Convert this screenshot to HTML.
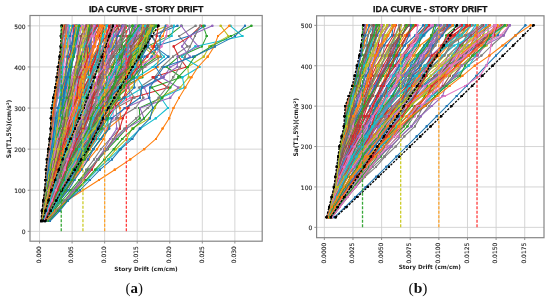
<!DOCTYPE html>
<html><head><meta charset="utf-8"><style>
html,body{margin:0;padding:0;background:#fff;}
svg{display:block;filter:blur(0.42px);}
.g{stroke:#cecece;stroke-width:0.85;}
.fr{fill:none;stroke:#858585;stroke-width:1.2;}
.tk{stroke:#858585;stroke-width:0.9;}
.tl{font-family:'DejaVu Sans',sans-serif;font-size:6.0px;fill:#222;stroke:#222;stroke-width:0.12px;}
.al{font-family:'DejaVu Sans',sans-serif;font-size:5.8px;font-weight:bold;fill:#222;}
.ti{font-family:'Liberation Sans', Arial, sans-serif;font-size:8.9px;font-weight:bold;fill:#111;stroke:#111;stroke-width:0.25px;}
.cp{font-family:'Liberation Serif', 'Times New Roman', serif;font-size:14px;fill:#111;}
.c0{stroke:#1f77b4;marker-start:url(#m0);marker-mid:url(#m0);marker-end:url(#m0);}
.c1{stroke:#ff7f0e;marker-start:url(#m1);marker-mid:url(#m1);marker-end:url(#m1);}
.c2{stroke:#2ca02c;marker-start:url(#m2);marker-mid:url(#m2);marker-end:url(#m2);}
.c3{stroke:#d62728;marker-start:url(#m3);marker-mid:url(#m3);marker-end:url(#m3);}
.c4{stroke:#9467bd;marker-start:url(#m4);marker-mid:url(#m4);marker-end:url(#m4);}
.c5{stroke:#8c564b;marker-start:url(#m5);marker-mid:url(#m5);marker-end:url(#m5);}
.c6{stroke:#e377c2;marker-start:url(#m6);marker-mid:url(#m6);marker-end:url(#m6);}
.c7{stroke:#7f7f7f;marker-start:url(#m7);marker-mid:url(#m7);marker-end:url(#m7);}
.c8{stroke:#bcbd22;marker-start:url(#m8);marker-mid:url(#m8);marker-end:url(#m8);}
.c9{stroke:#17becf;marker-start:url(#m9);marker-mid:url(#m9);marker-end:url(#m9);}
polyline{fill:none;stroke-width:1.05;stroke-linejoin:round;}
.bk{stroke:#000;stroke-width:1.3;stroke-dasharray:2.4,1.2;marker-start:url(#mk);marker-mid:url(#mk);marker-end:url(#mk);}
</style></head><body>
<svg width="550" height="302" viewBox="0 0 550 302">
<defs><marker id="m0" markerUnits="userSpaceOnUse" viewBox="-1 -1 2 2" markerWidth="2.7" markerHeight="2.7" refX="0" refY="0"><circle r="1" fill="#1f77b4"/></marker><marker id="m1" markerUnits="userSpaceOnUse" viewBox="-1 -1 2 2" markerWidth="2.7" markerHeight="2.7" refX="0" refY="0"><circle r="1" fill="#ff7f0e"/></marker><marker id="m2" markerUnits="userSpaceOnUse" viewBox="-1 -1 2 2" markerWidth="2.7" markerHeight="2.7" refX="0" refY="0"><circle r="1" fill="#2ca02c"/></marker><marker id="m3" markerUnits="userSpaceOnUse" viewBox="-1 -1 2 2" markerWidth="2.7" markerHeight="2.7" refX="0" refY="0"><circle r="1" fill="#d62728"/></marker><marker id="m4" markerUnits="userSpaceOnUse" viewBox="-1 -1 2 2" markerWidth="2.7" markerHeight="2.7" refX="0" refY="0"><circle r="1" fill="#9467bd"/></marker><marker id="m5" markerUnits="userSpaceOnUse" viewBox="-1 -1 2 2" markerWidth="2.7" markerHeight="2.7" refX="0" refY="0"><circle r="1" fill="#8c564b"/></marker><marker id="m6" markerUnits="userSpaceOnUse" viewBox="-1 -1 2 2" markerWidth="2.7" markerHeight="2.7" refX="0" refY="0"><circle r="1" fill="#e377c2"/></marker><marker id="m7" markerUnits="userSpaceOnUse" viewBox="-1 -1 2 2" markerWidth="2.7" markerHeight="2.7" refX="0" refY="0"><circle r="1" fill="#7f7f7f"/></marker><marker id="m8" markerUnits="userSpaceOnUse" viewBox="-1 -1 2 2" markerWidth="2.7" markerHeight="2.7" refX="0" refY="0"><circle r="1" fill="#bcbd22"/></marker><marker id="m9" markerUnits="userSpaceOnUse" viewBox="-1 -1 2 2" markerWidth="2.7" markerHeight="2.7" refX="0" refY="0"><circle r="1" fill="#17becf"/></marker><marker id="mk" markerUnits="userSpaceOnUse" viewBox="-1 -1 2 2" markerWidth="2.9" markerHeight="2.9" refX="0" refY="0"><circle r="1" fill="#000"/></marker></defs>
<rect width="550" height="302" fill="#fff"/>
<line x1="39.55" y1="15.50" x2="39.55" y2="241.20" class="g"/>
<line x1="72.10" y1="15.50" x2="72.10" y2="241.20" class="g"/>
<line x1="104.65" y1="15.50" x2="104.65" y2="241.20" class="g"/>
<line x1="137.20" y1="15.50" x2="137.20" y2="241.20" class="g"/>
<line x1="169.75" y1="15.50" x2="169.75" y2="241.20" class="g"/>
<line x1="202.30" y1="15.50" x2="202.30" y2="241.20" class="g"/>
<line x1="234.85" y1="15.50" x2="234.85" y2="241.20" class="g"/>
<line x1="30.00" y1="231.35" x2="262.20" y2="231.35" class="g"/>
<line x1="30.00" y1="190.25" x2="262.20" y2="190.25" class="g"/>
<line x1="30.00" y1="149.15" x2="262.20" y2="149.15" class="g"/>
<line x1="30.00" y1="108.05" x2="262.20" y2="108.05" class="g"/>
<line x1="30.00" y1="66.95" x2="262.20" y2="66.95" class="g"/>
<line x1="30.00" y1="25.85" x2="262.20" y2="25.85" class="g"/>
<polyline points="44.2,221.1 48.8,210.8 54.5,200.5 60.6,190.2 65.1,180.0 70.4,169.7 72.5,159.4 78.2,149.2 82.4,138.9 89.6,128.6 96.4,118.3 100.4,108.0 108.3,97.8 114.6,87.5 124.0,77.2 126.9,67.0 125.4,56.7 134.2,46.4 132.9,36.1 145.4,25.8" class="c0"/>
<polyline points="42.8,221.1 45.8,210.8 49.3,200.5 51.8,190.2 55.1,180.0 57.8,169.7 63.0,159.4 66.7,149.2 71.4,138.9 74.8,128.6 75.7,118.3 78.2,108.0 79.6,97.8 82.3,87.5 85.7,77.2 91.5,67.0 98.1,56.7 99.5,46.4 106.7,36.1 106.2,25.8" class="c1"/>
<polyline points="44.5,221.1 49.9,210.8 53.5,200.5 59.5,190.2 65.0,180.0 68.4,169.7 76.2,159.4 80.2,149.2 85.8,138.9 87.4,128.6 90.9,118.3 94.6,108.0 102.4,97.8 102.2,87.5 111.0,77.2 118.5,67.0 125.4,56.7 127.4,46.4 133.0,36.1 135.4,25.8" class="c2"/>
<polyline points="41.7,221.1 43.9,210.8 46.7,200.5 49.8,190.2 53.2,180.0 55.7,169.7 59.8,159.4 62.3,149.2 65.0,138.9 68.0,128.6 70.4,118.3 72.9,108.0 75.7,97.8 80.2,87.5 84.2,77.2 83.5,67.0 85.8,56.7 93.4,46.4 94.6,36.1 99.7,25.8" class="c3"/>
<polyline points="45.5,221.1 50.3,210.8 56.1,200.5 62.0,190.2 65.5,180.0 72.3,169.7 78.5,159.4 83.0,149.2 89.5,138.9 92.3,128.6 100.1,118.3 104.8,108.0 115.7,97.8 118.5,87.5 125.9,77.2 136.2,67.0 140.8,56.7 147.2,46.4 147.2,36.1 150.9,25.8" class="c4"/>
<polyline points="41.4,221.1 43.1,210.8 44.7,200.5 46.4,190.2 47.9,180.0 49.3,169.7 51.0,159.4 53.3,149.2 55.3,138.9 56.5,128.6 59.4,118.3 61.7,108.0 64.0,97.8 66.3,87.5 68.7,77.2 69.7,67.0 72.4,56.7 72.6,46.4 74.5,36.1 76.8,25.8" class="c5"/>
<polyline points="42.1,221.1 44.8,210.8 48.1,200.5 51.1,190.2 54.8,180.0 58.1,169.7 62.0,159.4 64.9,149.2 69.5,138.9 73.9,128.6 78.4,118.3 80.9,108.0 86.9,97.8 91.1,87.5 94.2,77.2 99.3,67.0 102.7,56.7 103.5,46.4 106.6,36.1 111.0,25.8" class="c6"/>
<polyline points="45.0,221.1 51.2,210.8 57.5,200.5 64.4,190.2 71.0,180.0 77.8,169.7 84.2,159.4 89.5,149.2 94.9,138.9 98.4,128.6 101.9,118.3 106.9,108.0 115.0,97.8 118.4,87.5 136.8,77.2 142.3,67.0 151.7,56.7 158.1,46.4 151.7,36.1 177.4,25.8" class="c0"/>
<polyline points="41.5,221.1 43.4,210.8 45.1,200.5 47.4,190.2 48.9,180.0 51.3,169.7 53.1,159.4 55.6,149.2 58.6,138.9 60.8,128.6 62.5,118.3 66.0,108.0 68.2,97.8 70.1,87.5 71.8,77.2 75.4,67.0 77.4,56.7 80.7,46.4 82.5,36.1 82.4,25.8" class="c8"/>
<polyline points="43.9,221.1 48.1,210.8 52.3,200.5 55.7,190.2 59.9,180.0 63.8,169.7 68.1,159.4 74.0,149.2 75.7,138.9 80.7,128.6 83.3,118.3 84.6,108.0 85.9,97.8 92.5,87.5 94.1,77.2 98.3,67.0 102.6,56.7 111.4,46.4 112.8,36.1 113.1,25.8" class="c9"/>
<polyline points="41.9,221.1 44.0,210.8 46.6,200.5 48.7,190.2 51.8,180.0 54.4,169.7 56.7,159.4 59.9,149.2 62.8,138.9 67.7,128.6 68.6,118.3 71.6,108.0 73.1,97.8 75.6,87.5 77.9,77.2 81.6,67.0 82.9,56.7 89.7,46.4 91.7,36.1 93.4,25.8" class="c0"/>
<polyline points="41.6,221.1 43.5,210.8 45.7,200.5 47.9,190.2 50.7,180.0 53.4,169.7 55.8,159.4 57.9,149.2 62.0,138.9 63.9,128.6 66.4,118.3 68.7,108.0 70.3,97.8 71.8,87.5 75.6,77.2 76.9,67.0 80.4,56.7 86.0,46.4 86.9,36.1 89.4,25.8" class="c1"/>
<polyline points="42.0,221.1 44.8,210.8 47.0,200.5 50.1,190.2 53.1,180.0 56.1,169.7 59.1,159.4 62.2,149.2 66.9,138.9 71.5,128.6 73.2,118.3 77.4,108.0 83.0,97.8 86.2,87.5 88.7,77.2 88.5,67.0 94.3,56.7 98.2,46.4 101.3,36.1 103.9,25.8" class="c2"/>
<polyline points="43.3,221.1 47.5,210.8 52.4,200.5 55.6,190.2 60.2,180.0 63.5,169.7 66.2,159.4 71.0,149.2 73.1,138.9 77.7,128.6 83.8,118.3 87.9,108.0 93.0,97.8 100.3,87.5 105.2,77.2 109.2,67.0 107.1,56.7 111.5,46.4 113.9,36.1 122.9,25.8" class="c3"/>
<polyline points="46.4,221.1 52.9,210.8 59.7,200.5 66.0,190.2 72.8,180.0 79.2,169.7 86.6,159.4 92.9,149.2 100.8,138.9 106.7,128.6 113.2,118.3 113.1,108.0 130.2,97.8 129.1,87.5 128.5,77.2 145.4,67.0 132.9,56.7 151.8,46.4 143.7,36.1 154.7,25.8" class="c6"/>
<polyline points="46.9,221.1 54.0,210.8 60.1,200.5 66.5,190.2 72.0,180.0 77.9,169.7 84.9,159.4 93.2,149.2 100.6,138.9 108.3,128.6 107.5,118.3 113.0,108.0 119.5,97.8 120.9,87.5 142.3,77.2 142.8,67.0 157.1,56.7 147.3,46.4 168.3,36.1 181.5,25.8" class="c2"/>
<polyline points="44.3,221.1 49.3,210.8 54.1,200.5 59.7,190.2 62.9,180.0 67.4,169.7 71.6,159.4 75.2,149.2 79.5,138.9 83.2,128.6 88.4,118.3 90.7,108.0 100.2,97.8 102.3,87.5 111.3,77.2 115.6,67.0 121.5,56.7 125.8,46.4 135.0,36.1 132.8,25.8" class="c6"/>
<polyline points="41.6,221.1 44.1,210.8 46.5,200.5 49.2,190.2 52.4,180.0 54.2,169.7 56.6,159.4 59.3,149.2 61.5,138.9 65.3,128.6 68.2,118.3 69.9,108.0 73.5,97.8 78.5,87.5 83.3,77.2 86.0,67.0 88.7,56.7 94.5,46.4 93.1,36.1 96.8,25.8" class="c7"/>
<polyline points="41.4,221.1 42.3,210.8 43.7,200.5 45.1,190.2 45.8,180.0 46.5,169.7 47.2,159.4 48.6,149.2 49.9,138.9 51.0,128.6 51.4,118.3 53.1,108.0 54.9,97.8 56.4,87.5 57.5,77.2 58.8,67.0 61.6,56.7 61.1,46.4 62.5,36.1 64.0,25.8" class="c8"/>
<polyline points="41.4,221.1 43.2,210.8 44.8,200.5 46.6,190.2 49.1,180.0 51.3,169.7 53.4,159.4 54.9,149.2 56.7,138.9 58.3,128.6 60.3,118.3 61.0,108.0 63.6,97.8 67.2,87.5 68.4,77.2 70.4,67.0 72.6,56.7 73.1,46.4 76.1,36.1 77.6,25.8" class="c9"/>
<polyline points="41.4,221.1 42.3,210.8 43.7,200.5 45.1,190.2 45.8,180.0 46.8,169.7 48.0,159.4 49.2,149.2 50.1,138.9 51.8,128.6 53.1,118.3 55.4,108.0 56.8,97.8 59.0,87.5 60.2,77.2 61.9,67.0 62.7,56.7 63.5,46.4 65.2,36.1 66.2,25.8" class="c0"/>
<polyline points="45.2,221.1 50.6,210.8 56.4,200.5 62.3,190.2 69.1,180.0 73.7,169.7 78.2,159.4 85.7,149.2 89.4,138.9 91.0,128.6 94.9,118.3 99.3,108.0 105.2,97.8 113.7,87.5 120.4,77.2 124.5,67.0 128.3,56.7 136.7,46.4 142.4,36.1 143.2,25.8" class="c1"/>
<polyline points="44.4,221.1 50.2,210.8 55.3,200.5 61.4,190.2 66.2,180.0 69.2,169.7 74.5,159.4 81.7,149.2 85.5,138.9 91.6,128.6 98.4,118.3 107.3,108.0 115.5,97.8 119.4,87.5 128.3,77.2 130.3,67.0 130.1,56.7 139.8,46.4 140.0,36.1 151.7,25.8" class="c2"/>
<polyline points="41.6,221.1 43.9,210.8 46.3,200.5 49.2,190.2 51.6,180.0 54.7,169.7 56.4,159.4 58.9,149.2 60.8,138.9 64.6,128.6 66.6,118.3 69.1,108.0 71.2,97.8 73.6,87.5 76.1,77.2 82.1,67.0 84.4,56.7 85.8,46.4 89.3,36.1 91.7,25.8" class="c3"/>
<polyline points="43.2,221.1 46.8,210.8 50.6,200.5 53.8,190.2 56.9,180.0 61.9,169.7 66.6,159.4 70.4,149.2 75.9,138.9 80.3,128.6 83.2,118.3 87.8,108.0 91.1,97.8 94.5,87.5 98.9,77.2 101.2,67.0 109.8,56.7 114.7,46.4 121.9,36.1 122.4,25.8" class="c4"/>
<polyline points="45.3,221.1 50.5,210.8 55.6,200.5 61.3,190.2 68.0,180.0 74.9,169.7 81.7,159.4 87.1,149.2 90.2,138.9 97.4,128.6 98.0,118.3 104.7,108.0 105.6,97.8 116.1,87.5 122.6,77.2 132.5,67.0 139.6,56.7 144.4,46.4 151.0,36.1 149.3,25.8" class="c5"/>
<polyline points="41.4,221.1 43.1,210.8 44.9,200.5 47.0,190.2 48.9,180.0 51.8,169.7 54.9,159.4 57.9,149.2 60.3,138.9 62.4,128.6 63.8,118.3 66.9,108.0 68.4,97.8 71.2,87.5 73.3,77.2 78.6,67.0 80.1,56.7 83.9,46.4 86.4,36.1 88.8,25.8" class="c6"/>
<polyline points="41.6,221.1 44.0,210.8 46.6,200.5 49.0,190.2 51.2,180.0 53.6,169.7 56.2,159.4 59.3,149.2 60.7,138.9 63.2,128.6 66.7,118.3 70.6,108.0 71.5,97.8 74.2,87.5 77.9,77.2 83.0,67.0 86.8,56.7 88.6,46.4 92.0,36.1 94.4,25.8" class="c7"/>
<polyline points="46.6,221.1 51.8,210.8 58.2,200.5 63.6,190.2 70.6,180.0 75.0,169.7 82.8,159.4 89.0,149.2 92.2,138.9 94.1,128.6 97.9,118.3 101.4,108.0 105.6,97.8 111.8,87.5 122.1,77.2 125.5,67.0 137.3,56.7 142.3,46.4 146.5,36.1 146.5,25.8" class="c8"/>
<polyline points="44.8,221.1 50.3,210.8 56.3,200.5 62.6,190.2 68.9,180.0 75.5,169.7 81.6,159.4 84.6,149.2 91.2,138.9 96.9,128.6 100.9,118.3 104.1,108.0 112.2,97.8 115.9,87.5 123.9,77.2 128.6,67.0 139.5,56.7 146.7,46.4 145.8,36.1 156.8,25.8" class="c9"/>
<polyline points="41.4,221.1 42.3,210.8 43.7,200.5 45.1,190.2 45.8,180.0 47.3,169.7 48.8,159.4 50.2,149.2 51.9,138.9 53.9,128.6 54.8,118.3 55.2,108.0 56.8,97.8 57.5,87.5 59.6,77.2 60.1,67.0 62.5,56.7 64.2,46.4 67.1,36.1 67.7,25.8" class="c0"/>
<polyline points="42.8,221.1 46.4,210.8 49.3,200.5 52.1,190.2 55.8,180.0 59.9,169.7 63.8,159.4 68.3,149.2 70.9,138.9 74.7,128.6 80.0,118.3 80.6,108.0 83.1,97.8 84.4,87.5 89.0,77.2 97.0,67.0 100.8,56.7 104.9,46.4 106.5,36.1 110.2,25.8" class="c1"/>
<polyline points="41.4,221.1 43.1,210.8 45.7,200.5 47.9,190.2 51.1,180.0 53.9,169.7 56.9,159.4 58.6,149.2 62.1,138.9 63.9,128.6 66.4,118.3 66.8,108.0 71.3,97.8 73.3,87.5 78.8,77.2 82.9,67.0 83.8,56.7 88.0,46.4 90.2,36.1 91.9,25.8" class="c2"/>
<polyline points="44.3,221.1 48.9,210.8 53.1,200.5 56.0,190.2 59.3,180.0 64.9,169.7 69.3,159.4 72.4,149.2 75.1,138.9 79.8,128.6 87.0,118.3 91.7,108.0 92.0,97.8 97.0,87.5 102.4,77.2 105.2,67.0 111.6,56.7 112.3,46.4 117.8,36.1 118.7,25.8" class="c3"/>
<polyline points="48.6,221.1 57.1,210.8 65.3,200.5 73.0,190.2 80.7,180.0 86.3,169.7 94.0,159.4 100.9,149.2 110.1,138.9 119.9,128.6 118.4,118.3 135.3,108.0 143.3,97.8 139.2,87.5 154.7,77.2 161.9,67.0 172.9,56.7 187.5,46.4 179.1,36.1 195.6,25.8" class="c7"/>
<polyline points="43.9,221.1 49.6,210.8 54.2,200.5 60.4,190.2 66.7,180.0 71.7,169.7 76.5,159.4 83.5,149.2 85.9,138.9 92.1,128.6 98.9,118.3 100.8,108.0 108.4,97.8 116.3,87.5 124.4,77.2 129.3,67.0 139.1,56.7 142.9,46.4 149.8,36.1 154.1,25.8" class="c5"/>
<polyline points="45.8,221.1 52.5,210.8 59.1,200.5 65.6,190.2 72.5,180.0 78.1,169.7 83.6,159.4 89.9,149.2 93.9,138.9 100.4,128.6 106.0,118.3 105.6,108.0 123.0,97.8 131.7,87.5 138.7,77.2 134.2,67.0 155.7,56.7 142.7,46.4 143.3,36.1 167.1,25.8" class="c8"/>
<polyline points="41.4,221.1 42.3,210.8 43.7,200.5 45.1,190.2 45.8,180.0 47.1,169.7 47.9,159.4 49.0,149.2 49.9,138.9 51.5,128.6 52.5,118.3 54.5,108.0 55.7,97.8 57.0,87.5 58.7,77.2 60.1,67.0 62.3,56.7 61.6,46.4 62.0,36.1 64.8,25.8" class="c7"/>
<polyline points="41.7,221.1 44.1,210.8 46.5,200.5 49.1,190.2 51.9,180.0 53.5,169.7 56.0,159.4 58.7,149.2 61.2,138.9 64.6,128.6 66.6,118.3 69.8,108.0 72.2,97.8 76.7,87.5 80.5,77.2 82.0,67.0 84.8,56.7 88.7,46.4 92.3,36.1 93.3,25.8" class="c8"/>
<polyline points="43.6,221.1 47.9,210.8 52.9,200.5 57.8,190.2 61.7,180.0 64.8,169.7 72.1,159.4 75.7,149.2 82.7,138.9 89.6,128.6 93.9,118.3 100.3,108.0 104.6,97.8 106.9,87.5 110.0,77.2 118.2,67.0 120.7,56.7 130.6,46.4 131.3,36.1 141.0,25.8" class="c9"/>
<polyline points="45.0,221.1 50.8,210.8 56.5,200.5 62.9,190.2 68.8,180.0 74.9,169.7 82.2,159.4 90.1,149.2 97.6,138.9 104.1,128.6 109.6,118.3 115.2,108.0 126.1,97.8 143.2,87.5 136.9,77.2 152.7,67.0 164.0,56.7 154.0,46.4 171.5,36.1 174.0,25.8" class="c9"/>
<polyline points="41.4,221.1 42.3,210.8 43.7,200.5 45.1,190.2 45.8,180.0 46.3,169.7 47.2,159.4 48.7,149.2 50.0,138.9 51.0,128.6 52.3,118.3 54.1,108.0 55.3,97.8 55.6,87.5 57.8,77.2 58.3,67.0 59.9,56.7 61.0,46.4 62.3,36.1 64.7,25.8" class="c1"/>
<polyline points="42.2,221.1 44.7,210.8 47.8,200.5 50.0,190.2 53.7,180.0 56.2,169.7 59.9,159.4 63.3,149.2 66.3,138.9 70.5,128.6 73.8,118.3 74.7,108.0 77.4,97.8 81.6,87.5 81.0,77.2 84.3,67.0 86.5,56.7 91.6,46.4 90.4,36.1 98.0,25.8" class="c2"/>
<polyline points="42.5,221.1 45.5,210.8 48.9,200.5 52.0,190.2 54.9,180.0 59.4,169.7 63.2,159.4 68.1,149.2 72.1,138.9 76.4,128.6 77.5,118.3 81.3,108.0 81.9,97.8 88.5,87.5 92.7,77.2 98.2,67.0 99.5,56.7 107.8,46.4 112.2,36.1 112.6,25.8" class="c3"/>
<polyline points="47.8,221.1 56.4,210.8 64.7,200.5 73.4,190.2 81.3,180.0 90.3,169.7 97.3,159.4 104.3,149.2 110.2,138.9 116.8,128.6 115.9,118.3 124.4,108.0 149.0,97.8 144.2,87.5 163.7,77.2 170.3,67.0 190.0,56.7 182.0,46.4 189.1,36.1 181.2,25.8" class="c4"/>
<polyline points="44.6,221.1 50.1,210.8 55.6,200.5 60.3,190.2 67.7,180.0 73.5,169.7 76.0,159.4 79.8,149.2 85.1,138.9 88.5,128.6 94.9,118.3 99.2,108.0 106.6,97.8 112.2,87.5 122.2,77.2 127.8,67.0 136.7,56.7 138.2,46.4 139.4,36.1 148.7,25.8" class="c5"/>
<polyline points="43.7,221.1 48.0,210.8 52.3,200.5 56.3,190.2 60.8,180.0 64.8,169.7 69.7,159.4 75.0,149.2 80.2,138.9 84.6,128.6 87.6,118.3 92.7,108.0 96.3,97.8 100.6,87.5 102.6,77.2 103.9,67.0 105.5,56.7 110.2,46.4 114.1,36.1 123.5,25.8" class="c6"/>
<polyline points="41.4,221.1 43.2,210.8 45.2,200.5 47.3,190.2 49.1,180.0 51.4,169.7 54.0,159.4 55.8,149.2 58.1,138.9 61.8,128.6 65.6,118.3 68.4,108.0 70.1,97.8 75.0,87.5 75.5,77.2 78.6,67.0 80.8,56.7 83.5,46.4 88.1,36.1 89.1,25.8" class="c7"/>
<polyline points="42.9,221.1 46.9,210.8 51.1,200.5 56.1,190.2 60.0,180.0 65.2,169.7 71.7,159.4 74.5,149.2 80.6,138.9 83.6,128.6 89.2,118.3 92.6,108.0 93.9,97.8 101.8,87.5 105.0,77.2 110.4,67.0 120.8,56.7 127.2,46.4 130.2,36.1 132.4,25.8" class="c8"/>
<polyline points="43.0,221.1 47.0,210.8 51.0,200.5 54.9,190.2 58.2,180.0 61.9,169.7 65.4,159.4 67.6,149.2 72.6,138.9 74.9,128.6 79.3,118.3 83.2,108.0 89.1,97.8 97.1,87.5 98.5,77.2 101.2,67.0 105.5,56.7 111.6,46.4 108.3,36.1 116.2,25.8" class="c9"/>
<polyline points="45.5,221.1 50.8,210.8 56.9,200.5 60.9,190.2 66.4,180.0 71.5,169.7 76.0,159.4 82.3,149.2 85.1,138.9 88.0,128.6 92.4,118.3 97.9,108.0 100.5,97.8 104.4,87.5 110.9,77.2 116.3,67.0 120.7,56.7 126.8,46.4 130.0,36.1 134.8,25.8" class="c0"/>
<polyline points="41.4,221.1 42.8,210.8 44.3,200.5 46.1,190.2 48.5,180.0 50.8,169.7 52.1,159.4 54.3,149.2 57.4,138.9 59.2,128.6 62.1,118.3 63.0,108.0 65.9,97.8 67.1,87.5 69.2,77.2 71.9,67.0 73.0,56.7 75.9,46.4 77.7,36.1 80.9,25.8" class="c1"/>
<polyline points="41.6,221.1 43.5,210.8 45.8,200.5 48.2,190.2 50.6,180.0 52.4,169.7 55.6,159.4 58.5,149.2 59.6,138.9 63.5,128.6 66.0,118.3 67.9,108.0 69.7,97.8 71.5,87.5 74.2,77.2 77.8,67.0 77.8,56.7 79.1,46.4 82.4,36.1 86.2,25.8" class="c2"/>
<polyline points="41.4,221.1 43.2,210.8 45.2,200.5 47.2,190.2 49.4,180.0 51.2,169.7 52.3,159.4 53.9,149.2 55.7,138.9 56.5,128.6 59.7,118.3 60.1,108.0 63.3,97.8 65.3,87.5 68.3,77.2 69.1,67.0 71.3,56.7 74.8,46.4 75.2,36.1 76.4,25.8" class="c3"/>
<polyline points="41.4,221.1 42.3,210.8 43.7,200.5 45.5,190.2 46.8,180.0 48.3,169.7 49.6,159.4 50.8,149.2 51.5,138.9 52.5,128.6 53.9,118.3 55.0,108.0 56.6,97.8 59.2,87.5 60.7,77.2 61.5,67.0 64.0,56.7 66.9,46.4 68.6,36.1 68.1,25.8" class="c4"/>
<polyline points="44.4,221.1 49.3,210.8 54.3,200.5 58.5,190.2 63.4,180.0 69.0,169.7 74.8,159.4 82.5,149.2 86.4,138.9 93.4,128.6 98.1,118.3 102.0,108.0 104.5,97.8 108.6,87.5 111.6,77.2 117.3,67.0 122.8,56.7 126.8,46.4 127.8,36.1 136.8,25.8" class="c5"/>
<polyline points="45.2,221.1 50.4,210.8 54.9,200.5 58.5,190.2 63.4,180.0 66.0,169.7 71.9,159.4 73.4,149.2 79.3,138.9 84.3,128.6 89.3,118.3 93.1,108.0 99.9,97.8 103.5,87.5 108.2,77.2 108.4,67.0 112.4,56.7 117.1,46.4 120.2,36.1 123.9,25.8" class="c6"/>
<polyline points="41.4,221.1 43.4,210.8 45.7,200.5 47.9,190.2 50.2,180.0 52.8,169.7 55.3,159.4 57.7,149.2 58.9,138.9 61.4,128.6 63.6,118.3 64.7,108.0 66.5,97.8 71.1,87.5 70.9,77.2 75.3,67.0 77.7,56.7 79.9,46.4 84.0,36.1 86.0,25.8" class="c7"/>
<polyline points="43.4,221.1 47.3,210.8 51.4,200.5 56.5,190.2 60.2,180.0 64.1,169.7 68.5,159.4 72.1,149.2 74.1,138.9 78.8,128.6 82.0,118.3 84.3,108.0 88.5,97.8 94.3,87.5 100.4,77.2 103.9,67.0 105.4,56.7 112.3,46.4 116.6,36.1 117.1,25.8" class="c8"/>
<polyline points="41.5,221.1 43.9,210.8 46.4,200.5 48.8,190.2 52.0,180.0 54.8,169.7 56.4,159.4 59.7,149.2 60.8,138.9 63.7,128.6 66.6,118.3 70.6,108.0 74.5,97.8 77.3,87.5 82.2,77.2 82.9,67.0 85.1,56.7 88.5,46.4 87.5,36.1 94.0,25.8" class="c9"/>
<polyline points="41.9,221.1 44.1,210.8 47.0,200.5 50.1,190.2 53.5,180.0 57.3,169.7 60.6,159.4 63.8,149.2 64.9,138.9 68.2,128.6 72.0,118.3 74.9,108.0 77.5,97.8 79.9,87.5 86.1,77.2 89.7,67.0 94.5,56.7 97.9,46.4 101.7,36.1 102.4,25.8" class="c0"/>
<polyline points="41.4,221.1 43.1,210.8 45.2,200.5 47.0,190.2 49.2,180.0 52.3,169.7 53.9,159.4 56.4,149.2 60.0,138.9 61.6,128.6 65.3,118.3 67.9,108.0 71.5,97.8 73.0,87.5 75.0,77.2 77.1,67.0 79.6,56.7 80.2,46.4 82.6,36.1 86.8,25.8" class="c1"/>
<polyline points="46.2,221.1 52.3,210.8 57.5,200.5 63.8,190.2 68.4,180.0 73.1,169.7 80.6,159.4 83.4,149.2 90.7,138.9 98.7,128.6 104.3,118.3 113.4,108.0 116.8,97.8 128.1,87.5 127.5,77.2 140.1,67.0 140.9,56.7 141.1,46.4 147.0,36.1 156.1,25.8" class="c2"/>
<polyline points="47.4,221.1 54.0,210.8 58.6,200.5 65.7,190.2 69.9,180.0 74.4,169.7 79.1,159.4 86.4,149.2 93.3,138.9 99.5,128.6 105.0,118.3 114.9,108.0 117.1,97.8 120.2,87.5 127.3,77.2 126.3,67.0 130.9,56.7 131.7,46.4 137.4,36.1 149.9,25.8" class="c3"/>
<polyline points="44.0,221.1 48.4,210.8 53.0,200.5 58.2,190.2 62.4,180.0 69.5,169.7 74.3,159.4 79.8,149.2 86.0,138.9 92.5,128.6 96.4,118.3 104.6,108.0 106.9,97.8 108.2,87.5 111.9,77.2 121.7,67.0 124.0,56.7 126.9,46.4 136.7,36.1 144.4,25.8" class="c4"/>
<polyline points="47.0,221.1 53.4,210.8 59.8,200.5 66.1,190.2 73.7,180.0 80.7,169.7 88.7,159.4 97.0,149.2 103.5,138.9 107.9,128.6 120.5,118.3 119.9,108.0 116.2,97.8 126.2,87.5 140.6,77.2 157.5,67.0 158.5,56.7 151.9,46.4 162.8,36.1 166.2,25.8" class="c1"/>
<polyline points="41.4,221.1 42.5,210.8 43.9,200.5 45.4,190.2 47.1,180.0 48.0,169.7 50.4,159.4 51.3,149.2 53.2,138.9 56.0,128.6 58.1,118.3 59.9,108.0 61.6,97.8 64.0,87.5 65.0,77.2 66.0,67.0 67.3,56.7 68.3,46.4 69.3,36.1 73.7,25.8" class="c6"/>
<polyline points="41.4,221.1 43.6,210.8 45.8,200.5 47.5,190.2 50.2,180.0 52.2,169.7 54.8,159.4 56.4,149.2 58.1,138.9 59.8,128.6 62.2,118.3 63.9,108.0 66.0,97.8 69.1,87.5 71.3,77.2 75.7,67.0 77.1,56.7 81.1,46.4 84.0,36.1 83.0,25.8" class="c7"/>
<polyline points="45.7,221.1 51.8,210.8 56.6,200.5 61.5,190.2 65.8,180.0 70.6,169.7 78.0,159.4 82.2,149.2 88.3,138.9 95.4,128.6 102.8,118.3 107.9,108.0 111.0,97.8 121.7,87.5 121.4,77.2 129.0,67.0 133.8,56.7 134.5,46.4 143.3,36.1 145.7,25.8" class="c8"/>
<polyline points="42.2,221.1 45.1,210.8 48.2,200.5 52.2,190.2 55.4,180.0 58.8,169.7 62.4,159.4 65.7,149.2 67.4,138.9 69.3,128.6 71.8,118.3 76.2,108.0 79.8,97.8 85.5,87.5 88.7,77.2 94.3,67.0 99.2,56.7 100.1,46.4 102.1,36.1 104.3,25.8" class="c9"/>
<polyline points="46.0,221.1 51.8,210.8 57.6,200.5 63.1,190.2 67.1,180.0 71.6,169.7 77.7,159.4 80.4,149.2 83.5,138.9 91.1,128.6 95.9,118.3 101.8,108.0 105.8,97.8 110.4,87.5 120.6,77.2 122.0,67.0 129.7,56.7 133.3,46.4 132.4,36.1 139.2,25.8" class="c0"/>
<polyline points="43.4,221.1 47.8,210.8 51.8,200.5 55.8,190.2 60.6,180.0 65.3,169.7 71.4,159.4 76.3,149.2 82.1,138.9 88.8,128.6 94.4,118.3 98.2,108.0 101.4,97.8 107.4,87.5 109.2,77.2 111.1,67.0 117.4,56.7 125.7,46.4 136.2,36.1 139.5,25.8" class="c1"/>
<polyline points="44.2,221.1 49.2,210.8 53.1,200.5 58.7,190.2 64.3,180.0 69.1,169.7 71.5,159.4 77.0,149.2 79.6,138.9 84.6,128.6 86.0,118.3 92.1,108.0 97.3,97.8 105.2,87.5 107.3,77.2 113.0,67.0 115.6,56.7 122.8,46.4 120.7,36.1 126.9,25.8" class="c2"/>
<polyline points="42.2,221.1 45.3,210.8 49.1,200.5 51.9,190.2 56.6,180.0 60.5,169.7 63.9,159.4 66.6,149.2 71.2,138.9 74.9,128.6 77.0,118.3 78.5,108.0 83.0,97.8 87.8,87.5 89.9,77.2 91.8,67.0 96.6,56.7 103.9,46.4 105.4,36.1 110.3,25.8" class="c3"/>
<polyline points="41.7,221.1 44.0,210.8 46.3,200.5 48.9,190.2 51.4,180.0 54.2,169.7 56.8,159.4 59.7,149.2 60.6,138.9 62.5,128.6 66.0,118.3 67.7,108.0 67.5,97.8 72.6,87.5 74.7,77.2 78.8,67.0 81.7,56.7 83.6,46.4 85.1,36.1 87.3,25.8" class="c4"/>
<polyline points="41.4,221.1 42.9,210.8 44.8,200.5 46.3,190.2 48.0,180.0 50.2,169.7 51.4,159.4 53.0,149.2 54.8,138.9 55.8,128.6 58.1,118.3 59.3,108.0 61.5,97.8 64.5,87.5 66.7,77.2 70.2,67.0 70.3,56.7 74.3,46.4 73.9,36.1 75.2,25.8" class="c5"/>
<polyline points="42.6,221.1 45.9,210.8 49.7,200.5 53.0,190.2 56.5,180.0 59.7,169.7 62.2,159.4 66.4,149.2 69.6,138.9 73.2,128.6 77.8,118.3 82.1,108.0 86.1,97.8 90.7,87.5 91.3,77.2 95.6,67.0 96.7,56.7 103.4,46.4 105.4,36.1 113.0,25.8" class="c6"/>
<polyline points="42.7,221.1 46.2,210.8 49.5,200.5 54.1,190.2 57.9,180.0 63.6,169.7 68.0,159.4 71.6,149.2 74.1,138.9 78.1,128.6 81.7,118.3 85.0,108.0 90.3,97.8 92.8,87.5 101.2,77.2 109.9,67.0 115.8,56.7 118.3,46.4 121.3,36.1 124.5,25.8" class="c7"/>
<polyline points="44.3,221.1 49.1,210.8 54.5,200.5 59.2,190.2 64.9,180.0 69.6,169.7 73.9,159.4 77.8,149.2 78.5,138.9 82.8,128.6 88.8,118.3 96.7,108.0 101.4,97.8 105.8,87.5 110.6,77.2 116.6,67.0 119.9,56.7 123.3,46.4 130.7,36.1 132.9,25.8" class="c8"/>
<polyline points="42.7,221.1 46.3,210.8 49.7,200.5 54.0,190.2 58.2,180.0 62.3,169.7 67.3,159.4 69.4,149.2 73.6,138.9 76.3,128.6 78.1,118.3 83.1,108.0 90.0,97.8 96.7,87.5 99.1,77.2 103.4,67.0 107.2,56.7 110.0,46.4 111.9,36.1 119.2,25.8" class="c9"/>
<polyline points="41.4,221.1 43.1,210.8 45.1,200.5 46.9,190.2 48.5,180.0 50.1,169.7 52.0,159.4 53.8,149.2 55.2,138.9 58.0,128.6 60.2,118.3 62.1,108.0 65.2,97.8 68.6,87.5 70.5,77.2 71.7,67.0 73.1,56.7 75.8,46.4 77.0,36.1 79.3,25.8" class="c0"/>
<polyline points="41.4,221.1 43.6,210.8 45.6,200.5 47.8,190.2 50.8,180.0 52.6,169.7 56.2,159.4 58.6,149.2 62.2,138.9 65.3,128.6 67.8,118.3 70.2,108.0 74.9,97.8 74.2,87.5 76.5,77.2 81.0,67.0 82.3,56.7 84.7,46.4 91.2,36.1 93.5,25.8" class="c1"/>
<polyline points="42.8,221.1 46.3,210.8 50.6,200.5 55.5,190.2 59.4,180.0 64.0,169.7 70.8,159.4 74.8,149.2 77.6,138.9 79.0,128.6 85.6,118.3 92.1,108.0 97.2,97.8 103.5,87.5 108.4,77.2 115.1,67.0 121.3,56.7 121.4,46.4 120.6,36.1 132.0,25.8" class="c2"/>
<polyline points="46.9,221.1 53.7,210.8 59.5,200.5 66.3,190.2 71.7,180.0 76.7,169.7 80.9,159.4 86.9,149.2 92.9,138.9 100.3,128.6 106.7,118.3 114.3,108.0 123.6,97.8 127.3,87.5 125.8,77.2 133.2,67.0 138.1,56.7 138.2,46.4 149.4,36.1 153.8,25.8" class="c3"/>
<polyline points="44.1,221.1 48.7,210.8 52.5,200.5 58.2,190.2 62.6,180.0 67.2,169.7 73.8,159.4 77.5,149.2 79.9,138.9 85.8,128.6 87.6,118.3 92.6,108.0 99.4,97.8 101.9,87.5 109.5,77.2 115.5,67.0 118.6,56.7 123.8,46.4 129.4,36.1 129.6,25.8" class="c4"/>
<polyline points="44.9,221.1 49.7,210.8 55.5,200.5 60.0,190.2 65.2,180.0 71.2,169.7 76.2,159.4 84.3,149.2 90.0,138.9 92.2,128.6 95.4,118.3 102.7,108.0 106.4,97.8 106.6,87.5 111.3,77.2 117.6,67.0 120.6,56.7 127.5,46.4 135.8,36.1 139.8,25.8" class="c5"/>
<polyline points="42.9,221.1 47.2,210.8 51.0,200.5 55.9,190.2 59.3,180.0 63.6,169.7 67.4,159.4 71.1,149.2 75.4,138.9 78.7,128.6 83.1,118.3 89.7,108.0 98.3,97.8 98.9,87.5 104.7,77.2 108.4,67.0 112.2,56.7 118.0,46.4 116.1,36.1 125.5,25.8" class="c6"/>
<polyline points="41.8,221.1 44.4,210.8 46.8,200.5 50.6,190.2 53.6,180.0 55.9,169.7 59.3,159.4 63.5,149.2 65.8,138.9 69.0,128.6 71.4,118.3 71.9,108.0 76.6,97.8 77.3,87.5 80.3,77.2 86.6,67.0 91.2,56.7 93.1,46.4 97.5,36.1 98.7,25.8" class="c7"/>
<polyline points="43.2,221.1 46.6,210.8 50.3,200.5 54.1,190.2 57.0,180.0 61.4,169.7 63.8,159.4 67.9,149.2 70.9,138.9 75.5,128.6 81.9,118.3 83.4,108.0 87.6,97.8 93.4,87.5 94.5,77.2 97.6,67.0 101.6,56.7 104.2,46.4 108.2,36.1 112.8,25.8" class="c8"/>
<polyline points="41.4,221.1 42.4,210.8 43.9,200.5 45.5,190.2 47.2,180.0 49.1,169.7 51.1,159.4 52.9,149.2 55.7,138.9 57.9,128.6 60.1,118.3 62.4,108.0 64.8,97.8 65.9,87.5 68.8,77.2 70.3,67.0 72.0,56.7 76.1,46.4 75.6,36.1 78.8,25.8" class="c9"/>
<polyline points="41.4,221.1 42.3,210.8 43.7,200.5 45.1,190.2 45.8,180.0 46.8,169.7 47.9,159.4 49.0,149.2 49.9,138.9 51.0,128.6 51.6,118.3 52.2,108.0 53.5,97.8 56.2,87.5 57.4,77.2 58.9,67.0 60.6,56.7 62.1,46.4 62.5,36.1 62.9,25.8" class="c0"/>
<polyline points="48.2,221.1 57.0,210.8 65.6,200.5 75.1,190.2 83.5,180.0 91.7,169.7 97.9,159.4 106.7,149.2 113.5,138.9 119.8,128.6 122.7,118.3 128.3,108.0 132.7,97.8 167.9,87.5 152.7,77.2 186.4,67.0 178.8,56.7 173.7,46.4 190.4,36.1 200.7,25.8" class="c3"/>
<polyline points="42.2,221.1 44.4,210.8 46.8,200.5 49.5,190.2 51.3,180.0 53.5,169.7 56.4,159.4 60.4,149.2 62.5,138.9 66.0,128.6 69.3,118.3 70.6,108.0 71.1,97.8 73.6,87.5 74.9,77.2 77.7,67.0 81.2,56.7 86.2,46.4 88.8,36.1 90.0,25.8" class="c2"/>
<polyline points="43.4,221.1 47.4,210.8 50.8,200.5 54.9,190.2 59.6,180.0 62.4,169.7 65.8,159.4 69.9,149.2 74.8,138.9 78.5,128.6 82.8,118.3 88.5,108.0 92.1,97.8 99.2,87.5 102.8,77.2 109.0,67.0 111.0,56.7 116.6,46.4 116.8,36.1 121.8,25.8" class="c3"/>
<polyline points="41.4,221.1 42.3,210.8 43.7,200.5 45.1,190.2 46.1,180.0 47.5,169.7 49.2,159.4 49.8,149.2 51.1,138.9 52.1,128.6 54.7,118.3 55.5,108.0 57.5,97.8 60.0,87.5 61.9,77.2 62.0,67.0 64.1,56.7 64.8,46.4 65.8,36.1 68.4,25.8" class="c4"/>
<polyline points="45.7,221.1 52.3,210.8 58.3,200.5 64.6,190.2 70.4,180.0 75.3,169.7 80.0,159.4 83.4,149.2 90.2,138.9 95.4,128.6 99.2,118.3 109.8,108.0 114.5,97.8 121.9,87.5 125.9,77.2 136.7,67.0 138.5,56.7 144.8,46.4 149.1,36.1 152.0,25.8" class="c5"/>
<polyline points="41.4,221.1 42.3,210.8 43.7,200.5 45.4,190.2 47.0,180.0 48.7,169.7 50.9,159.4 52.5,149.2 54.6,138.9 55.3,128.6 57.1,118.3 59.0,108.0 60.9,97.8 61.7,87.5 62.8,77.2 64.9,67.0 67.1,56.7 70.1,46.4 71.4,36.1 74.2,25.8" class="c6"/>
<polyline points="41.4,221.1 43.1,210.8 45.1,200.5 47.3,190.2 49.7,180.0 52.7,169.7 55.2,159.4 58.1,149.2 59.9,138.9 61.9,128.6 64.8,118.3 65.1,108.0 68.3,97.8 71.8,87.5 72.5,77.2 74.8,67.0 77.9,56.7 81.0,46.4 87.3,36.1 88.1,25.8" class="c7"/>
<polyline points="43.7,221.1 47.8,210.8 51.6,200.5 55.3,190.2 58.9,180.0 63.2,169.7 64.6,159.4 68.1,149.2 74.2,138.9 76.3,128.6 81.4,118.3 85.0,108.0 92.0,97.8 96.7,87.5 99.1,77.2 100.2,67.0 104.9,56.7 109.7,46.4 111.3,36.1 114.1,25.8" class="c8"/>
<polyline points="41.4,221.1 42.8,210.8 44.4,200.5 46.2,190.2 48.4,180.0 50.0,169.7 52.0,159.4 55.1,149.2 57.8,138.9 59.2,128.6 62.1,118.3 65.5,108.0 66.7,97.8 68.3,87.5 69.1,77.2 71.2,67.0 74.0,56.7 77.4,46.4 79.2,36.1 82.3,25.8" class="c9"/>
<polyline points="41.4,221.1 43.3,210.8 45.0,200.5 46.9,190.2 49.5,180.0 50.7,169.7 52.7,159.4 54.4,149.2 56.0,138.9 57.4,128.6 59.9,118.3 62.3,108.0 62.6,97.8 65.6,87.5 66.8,77.2 70.9,67.0 73.8,56.7 76.3,46.4 77.9,36.1 79.5,25.8" class="c0"/>
<polyline points="42.3,221.1 45.2,210.8 48.1,200.5 51.5,190.2 54.7,180.0 57.4,169.7 61.1,159.4 63.9,149.2 67.1,138.9 68.7,128.6 72.1,118.3 73.4,108.0 77.4,97.8 79.5,87.5 85.2,77.2 86.6,67.0 91.1,56.7 94.1,46.4 99.3,36.1 101.1,25.8" class="c1"/>
<polyline points="42.7,221.1 46.0,210.8 49.4,200.5 52.2,190.2 54.9,180.0 58.1,169.7 60.3,159.4 65.0,149.2 69.0,138.9 73.3,128.6 77.3,118.3 81.0,108.0 85.8,97.8 87.6,87.5 92.3,77.2 93.4,67.0 99.9,56.7 100.0,46.4 100.4,36.1 107.8,25.8" class="c2"/>
<polyline points="41.9,221.1 44.5,210.8 47.7,200.5 50.6,190.2 54.7,180.0 57.9,169.7 60.6,159.4 63.1,149.2 65.7,138.9 69.3,128.6 73.4,118.3 76.8,108.0 81.4,97.8 85.1,87.5 90.7,77.2 92.4,67.0 95.5,56.7 100.4,46.4 98.7,36.1 105.3,25.8" class="c3"/>
<polyline points="41.4,221.1 43.3,210.8 46.1,200.5 48.5,190.2 51.2,180.0 53.3,169.7 55.9,159.4 58.5,149.2 59.7,138.9 61.7,128.6 65.3,118.3 68.2,108.0 69.3,97.8 73.4,87.5 76.8,77.2 79.6,67.0 85.2,56.7 86.2,46.4 91.2,36.1 90.3,25.8" class="c4"/>
<polyline points="46.4,221.1 53.0,210.8 60.2,200.5 66.0,190.2 72.6,180.0 77.6,169.7 82.6,159.4 87.7,149.2 93.0,138.9 100.4,128.6 105.9,118.3 103.6,108.0 124.2,97.8 134.4,87.5 134.1,77.2 138.7,67.0 144.6,56.7 160.5,46.4 159.7,36.1 165.8,25.8" class="c0"/>
<polyline points="41.4,221.1 42.9,210.8 45.1,200.5 46.7,190.2 48.9,180.0 50.0,169.7 52.9,159.4 54.3,149.2 56.8,138.9 58.0,128.6 61.4,118.3 64.6,108.0 66.1,97.8 68.3,87.5 71.6,77.2 75.2,67.0 77.3,56.7 76.8,46.4 79.2,36.1 82.0,25.8" class="c6"/>
<polyline points="41.9,221.1 44.6,210.8 46.9,200.5 50.3,190.2 53.8,180.0 57.3,169.7 60.6,159.4 64.2,149.2 69.2,138.9 72.6,128.6 75.0,118.3 76.7,108.0 80.7,97.8 83.8,87.5 86.0,77.2 88.7,67.0 95.9,56.7 98.6,46.4 104.3,36.1 106.3,25.8" class="c7"/>
<polyline points="43.8,221.1 48.3,210.8 53.4,200.5 58.6,190.2 63.1,180.0 69.8,169.7 76.4,159.4 81.2,149.2 88.3,138.9 94.9,128.6 94.6,118.3 98.8,108.0 107.9,97.8 111.9,87.5 118.3,77.2 129.5,67.0 135.0,56.7 139.2,46.4 146.0,36.1 150.4,25.8" class="c8"/>
<polyline points="41.4,221.1 42.3,210.8 43.7,200.5 45.1,190.2 45.8,180.0 46.3,169.7 47.2,159.4 48.6,149.2 49.9,138.9 51.0,128.6 51.3,118.3 52.1,108.0 53.5,97.8 55.6,87.5 57.0,77.2 58.3,67.0 59.9,56.7 61.0,46.4 61.8,36.1 62.2,25.8" class="c9"/>
<polyline points="43.5,221.1 47.6,210.8 51.7,200.5 55.8,190.2 61.7,180.0 66.0,169.7 67.9,159.4 73.8,149.2 76.8,138.9 78.9,128.6 85.0,118.3 85.2,108.0 91.2,97.8 95.4,87.5 99.9,77.2 101.9,67.0 106.2,56.7 114.6,46.4 117.6,36.1 122.5,25.8" class="c0"/>
<polyline points="41.4,221.1 43.9,210.8 45.9,200.5 48.2,190.2 51.2,180.0 54.1,169.7 57.5,159.4 60.2,149.2 65.2,138.9 67.7,128.6 70.4,118.3 74.1,108.0 74.3,97.8 79.6,87.5 81.9,77.2 82.5,67.0 86.8,56.7 88.9,46.4 97.2,36.1 99.2,25.8" class="c1"/>
<polyline points="45.8,221.1 52.9,210.8 60.0,200.5 68.4,190.2 74.5,180.0 81.7,169.7 88.0,159.4 93.4,149.2 101.0,138.9 109.2,128.6 111.5,118.3 125.3,108.0 139.9,97.8 141.9,87.5 162.3,77.2 155.7,67.0 168.4,56.7 154.2,46.4 189.3,36.1 204.6,25.8" class="c0"/>
<polyline points="44.9,221.1 51.0,210.8 57.4,200.5 63.0,190.2 70.2,180.0 76.3,169.7 82.2,159.4 87.4,149.2 93.8,138.9 99.3,128.6 99.1,118.3 115.4,108.0 109.6,97.8 126.6,87.5 131.0,77.2 138.5,67.0 154.5,56.7 161.5,46.4 166.3,36.1 167.6,25.8" class="c6"/>
<polyline points="46.2,221.1 51.9,210.8 57.6,200.5 61.5,190.2 66.7,180.0 71.5,169.7 76.6,159.4 79.9,149.2 87.3,138.9 92.6,128.6 98.8,118.3 100.9,108.0 105.2,97.8 108.5,87.5 114.6,77.2 117.7,67.0 118.5,56.7 125.1,46.4 129.9,36.1 135.8,25.8" class="c4"/>
<polyline points="42.1,221.1 45.0,210.8 48.3,200.5 51.6,190.2 54.9,180.0 58.7,169.7 60.6,159.4 65.2,149.2 66.9,138.9 69.6,128.6 73.5,118.3 77.9,108.0 82.9,97.8 86.3,87.5 92.6,77.2 93.5,67.0 99.3,56.7 105.2,46.4 110.1,36.1 111.0,25.8" class="c5"/>
<polyline points="41.7,221.1 44.6,210.8 47.3,200.5 49.7,190.2 52.0,180.0 54.8,169.7 58.2,159.4 61.2,149.2 65.5,138.9 67.9,128.6 73.1,118.3 75.7,108.0 77.8,97.8 80.6,87.5 82.4,77.2 84.8,67.0 87.0,56.7 95.4,46.4 97.1,36.1 101.8,25.8" class="c6"/>
<polyline points="43.0,221.1 46.8,210.8 49.8,200.5 54.4,190.2 57.7,180.0 61.8,169.7 66.6,159.4 71.4,149.2 78.1,138.9 82.9,128.6 86.7,118.3 86.4,108.0 91.1,97.8 95.6,87.5 97.5,77.2 107.6,67.0 113.5,56.7 115.6,46.4 121.9,36.1 125.3,25.8" class="c7"/>
<polyline points="46.7,221.1 54.3,210.8 62.1,200.5 70.8,190.2 79.1,180.0 88.5,169.7 98.4,159.4 107.6,149.2 117.3,138.9 126.5,128.6 139.8,118.3 139.3,108.0 161.6,97.8 151.8,87.5 181.2,77.2 166.5,67.0 178.8,56.7 201.9,46.4 206.7,36.1 203.2,25.8" class="c2"/>
<polyline points="42.5,221.1 45.5,210.8 48.4,200.5 52.5,190.2 55.9,180.0 59.8,169.7 63.1,159.4 67.2,149.2 69.4,138.9 71.3,128.6 74.2,118.3 78.4,108.0 82.3,97.8 85.2,87.5 90.6,77.2 96.7,67.0 99.7,56.7 104.8,46.4 103.1,36.1 107.2,25.8" class="c9"/>
<polyline points="46.0,221.1 51.5,210.8 57.4,200.5 62.7,190.2 69.2,180.0 74.1,169.7 78.0,159.4 83.6,149.2 86.3,138.9 93.9,128.6 94.1,118.3 102.2,108.0 104.2,97.8 105.9,87.5 116.0,77.2 115.3,67.0 124.1,56.7 126.2,46.4 130.9,36.1 140.8,25.8" class="c0"/>
<polyline points="44.5,221.1 49.7,210.8 53.7,200.5 58.5,190.2 63.5,180.0 68.4,169.7 73.9,159.4 80.1,149.2 85.0,138.9 93.4,128.6 96.7,118.3 98.9,108.0 103.6,97.8 109.4,87.5 115.4,77.2 120.0,67.0 125.5,56.7 137.3,46.4 143.3,36.1 144.7,25.8" class="c1"/>
<polyline points="42.0,221.1 44.5,210.8 46.9,200.5 50.0,190.2 52.0,180.0 54.2,169.7 56.5,159.4 58.1,149.2 61.4,138.9 63.4,128.6 65.1,118.3 66.6,108.0 69.2,97.8 72.1,87.5 77.4,77.2 78.1,67.0 82.5,56.7 85.7,46.4 87.6,36.1 89.1,25.8" class="c2"/>
<polyline points="45.9,221.1 52.5,210.8 59.3,200.5 65.9,190.2 72.5,180.0 78.6,169.7 83.5,159.4 88.9,149.2 95.7,138.9 103.1,128.6 116.9,118.3 116.0,108.0 134.4,97.8 127.9,87.5 131.8,77.2 144.4,67.0 160.8,56.7 158.8,46.4 152.4,36.1 171.6,25.8" class="c7"/>
<polyline points="42.0,221.1 44.6,210.8 47.2,200.5 49.6,190.2 52.3,180.0 54.9,169.7 57.5,159.4 62.1,149.2 65.4,138.9 67.2,128.6 69.6,118.3 71.3,108.0 74.4,97.8 77.0,87.5 80.4,77.2 82.4,67.0 89.3,56.7 93.7,46.4 95.0,36.1 95.3,25.8" class="c4"/>
<polyline points="42.8,221.1 46.3,210.8 50.1,200.5 54.4,190.2 58.3,180.0 61.7,169.7 64.9,159.4 70.4,149.2 73.7,138.9 78.1,128.6 84.5,118.3 86.0,108.0 90.1,97.8 94.9,87.5 99.5,77.2 98.0,67.0 104.0,56.7 107.5,46.4 107.1,36.1 115.7,25.8" class="c5"/>
<polyline points="41.4,221.1 43.7,210.8 45.9,200.5 48.6,190.2 51.6,180.0 54.1,169.7 57.9,159.4 61.2,149.2 63.7,138.9 66.6,128.6 70.0,118.3 71.7,108.0 74.4,97.8 77.8,87.5 80.4,77.2 82.8,67.0 88.9,56.7 93.3,46.4 93.5,36.1 97.1,25.8" class="c6"/>
<polyline points="43.9,221.1 48.3,210.8 52.7,200.5 57.2,190.2 63.0,180.0 67.1,169.7 73.0,159.4 78.9,149.2 82.6,138.9 87.4,128.6 97.0,118.3 99.2,108.0 107.4,97.8 115.1,87.5 115.5,77.2 120.9,67.0 127.8,56.7 127.0,46.4 137.2,36.1 142.1,25.8" class="c7"/>
<polyline points="42.8,221.1 46.0,210.8 49.1,200.5 53.5,190.2 56.4,180.0 61.5,169.7 65.2,159.4 70.2,149.2 74.7,138.9 80.0,128.6 83.8,118.3 86.3,108.0 89.0,97.8 94.7,87.5 94.1,77.2 100.3,67.0 105.0,56.7 109.0,46.4 110.1,36.1 119.7,25.8" class="c8"/>
<polyline points="43.4,221.1 47.2,210.8 51.6,200.5 56.8,190.2 61.3,180.0 67.9,169.7 73.3,159.4 77.4,149.2 83.8,138.9 87.8,128.6 93.1,118.3 97.8,108.0 102.3,97.8 106.6,87.5 108.3,77.2 117.8,67.0 125.5,56.7 129.1,46.4 137.9,36.1 140.9,25.8" class="c9"/>
<polyline points="41.4,221.1 42.8,210.8 44.8,200.5 46.5,190.2 48.4,180.0 49.5,169.7 51.7,159.4 53.4,149.2 54.4,138.9 56.8,128.6 58.3,118.3 62.4,108.0 63.7,97.8 65.7,87.5 66.5,77.2 69.2,67.0 70.7,56.7 70.7,46.4 73.4,36.1 76.6,25.8" class="c0"/>
<polyline points="46.5,221.1 53.0,210.8 58.6,200.5 64.3,190.2 71.3,180.0 80.1,169.7 83.6,159.4 89.7,149.2 95.7,138.9 95.5,128.6 98.9,118.3 107.6,108.0 114.5,97.8 117.8,87.5 131.3,77.2 137.1,67.0 140.0,56.7 139.4,46.4 147.7,36.1 152.6,25.8" class="c1"/>
<polyline points="44.8,221.1 50.1,210.8 56.8,200.5 63.3,190.2 67.8,180.0 76.1,169.7 81.5,159.4 84.2,149.2 88.4,138.9 91.8,128.6 101.3,118.3 103.4,108.0 116.0,97.8 123.8,87.5 132.7,77.2 131.3,67.0 141.1,56.7 137.3,46.4 140.4,36.1 152.8,25.8" class="c2"/>
<polyline points="45.5,221.1 51.6,210.8 56.9,200.5 62.2,190.2 67.5,180.0 76.8,169.7 83.4,159.4 87.4,149.2 95.4,138.9 97.9,128.6 102.8,118.3 105.3,108.0 110.0,97.8 119.5,87.5 129.6,77.2 138.2,67.0 147.3,56.7 154.1,46.4 156.7,36.1 158.3,25.8" class="c3"/>
<polyline points="44.9,221.1 49.9,210.8 54.0,200.5 58.7,190.2 62.2,180.0 66.3,169.7 72.3,159.4 75.4,149.2 77.7,138.9 80.5,128.6 83.0,118.3 88.9,108.0 89.7,97.8 91.8,87.5 99.4,77.2 100.5,67.0 103.9,56.7 110.9,46.4 114.4,36.1 118.2,25.8" class="c4"/>
<polyline points="43.8,221.1 48.3,210.8 52.8,200.5 57.1,190.2 62.1,180.0 67.2,169.7 69.4,159.4 74.1,149.2 79.6,138.9 79.6,128.6 85.9,118.3 88.1,108.0 92.7,97.8 98.2,87.5 100.2,77.2 104.1,67.0 113.1,56.7 121.1,46.4 123.0,36.1 125.1,25.8" class="c5"/>
<polyline points="43.8,221.1 48.1,210.8 53.7,200.5 58.8,190.2 64.2,180.0 70.2,169.7 74.7,159.4 79.2,149.2 86.1,138.9 87.1,128.6 91.8,118.3 97.6,108.0 102.6,97.8 106.5,87.5 114.7,77.2 125.5,67.0 127.5,56.7 135.8,46.4 136.8,36.1 144.2,25.8" class="c6"/>
<polyline points="42.0,221.1 44.4,210.8 46.4,200.5 48.7,190.2 50.4,180.0 53.2,169.7 54.3,159.4 56.7,149.2 59.0,138.9 62.7,128.6 66.0,118.3 67.9,108.0 70.3,97.8 74.4,87.5 74.0,77.2 77.8,67.0 77.8,56.7 81.4,46.4 80.6,36.1 86.2,25.8" class="c7"/>
<polyline points="41.4,221.1 42.3,210.8 43.7,200.5 45.4,190.2 46.6,180.0 48.1,169.7 49.7,159.4 50.6,149.2 52.4,138.9 54.8,128.6 56.8,118.3 59.3,108.0 59.9,97.8 62.4,87.5 63.9,77.2 66.5,67.0 66.8,56.7 67.4,46.4 68.2,36.1 72.0,25.8" class="c8"/>
<polyline points="41.4,221.1 43.7,210.8 45.9,200.5 48.2,190.2 50.1,180.0 52.8,169.7 55.6,159.4 59.5,149.2 62.7,138.9 66.1,128.6 67.6,118.3 70.6,108.0 75.4,97.8 75.7,87.5 78.7,77.2 80.2,67.0 83.8,56.7 83.6,46.4 90.6,36.1 94.4,25.8" class="c9"/>
<polyline points="42.1,221.1 45.0,210.8 48.0,200.5 51.2,190.2 54.5,180.0 57.2,169.7 60.1,159.4 62.1,149.2 63.0,138.9 65.8,128.6 70.8,118.3 72.0,108.0 78.4,97.8 81.8,87.5 83.0,77.2 88.7,67.0 90.1,56.7 89.4,46.4 91.6,36.1 97.5,25.8" class="c0"/>
<polyline points="45.9,221.1 51.9,210.8 57.9,200.5 64.3,190.2 69.5,180.0 75.0,169.7 77.5,159.4 82.9,149.2 87.5,138.9 94.1,128.6 102.4,118.3 110.9,108.0 118.7,97.8 120.4,87.5 127.5,77.2 127.3,67.0 135.0,56.7 135.0,46.4 142.3,36.1 152.3,25.8" class="c1"/>
<polyline points="45.4,221.1 50.4,210.8 56.2,200.5 63.8,190.2 68.0,180.0 76.9,169.7 83.7,159.4 86.3,149.2 93.8,138.9 101.4,128.6 107.8,118.3 110.3,108.0 117.4,97.8 118.6,87.5 125.7,77.2 125.0,67.0 135.3,56.7 137.1,46.4 148.6,36.1 154.3,25.8" class="c2"/>
<polyline points="41.4,221.1 42.5,210.8 44.2,200.5 46.0,190.2 47.4,180.0 48.9,169.7 50.2,159.4 52.0,149.2 53.7,138.9 54.6,128.6 56.1,118.3 59.1,108.0 60.4,97.8 63.6,87.5 65.5,77.2 66.5,67.0 68.9,56.7 72.1,46.4 73.2,36.1 74.0,25.8" class="c3"/>
<polyline points="47.7,221.1 56.6,210.8 65.8,200.5 75.5,190.2 86.4,180.0 97.0,169.7 107.9,159.4 116.1,149.2 126.6,138.9 132.0,128.6 149.3,118.3 154.9,108.0 159.4,97.8 180.2,87.5 188.8,77.2 187.7,67.0 203.7,56.7 209.4,46.4 228.5,36.1 220.7,25.8" class="c8"/>
<polyline points="45.2,221.1 51.3,210.8 56.7,200.5 63.4,190.2 69.4,180.0 74.1,169.7 79.5,159.4 81.3,149.2 87.2,138.9 91.0,128.6 95.8,118.3 99.6,108.0 104.6,97.8 112.1,87.5 116.9,77.2 125.8,67.0 129.9,56.7 132.3,46.4 135.9,36.1 139.9,25.8" class="c5"/>
<polyline points="45.9,221.1 51.8,210.8 56.7,200.5 61.2,190.2 67.7,180.0 71.4,169.7 77.4,159.4 80.8,149.2 84.8,138.9 90.2,128.6 100.4,118.3 101.6,108.0 107.6,97.8 116.4,87.5 120.1,77.2 121.6,67.0 127.4,56.7 132.5,46.4 131.9,36.1 140.7,25.8" class="c6"/>
<polyline points="44.5,221.1 49.9,210.8 56.7,200.5 62.4,190.2 68.3,180.0 75.1,169.7 78.2,159.4 83.5,149.2 89.4,138.9 94.1,128.6 96.7,118.3 104.6,108.0 116.2,97.8 122.2,87.5 127.2,77.2 136.5,67.0 137.3,56.7 143.5,46.4 141.1,36.1 152.6,25.8" class="c7"/>
<polyline points="41.8,221.1 44.3,210.8 47.1,200.5 49.4,190.2 52.1,180.0 53.9,169.7 56.1,159.4 59.1,149.2 63.5,138.9 65.2,128.6 70.2,118.3 74.4,108.0 77.2,97.8 79.3,87.5 81.1,77.2 86.0,67.0 85.5,56.7 86.7,46.4 90.9,36.1 96.3,25.8" class="c8"/>
<polyline points="43.3,221.1 46.9,210.8 50.9,200.5 54.5,190.2 57.6,180.0 62.3,169.7 65.5,159.4 71.0,149.2 73.7,138.9 79.4,128.6 81.7,118.3 86.6,108.0 87.4,97.8 88.7,87.5 95.0,77.2 97.4,67.0 103.3,56.7 109.7,46.4 113.0,36.1 114.0,25.8" class="c9"/>
<polyline points="41.4,221.1 42.3,210.8 43.7,200.5 45.1,190.2 45.8,180.0 46.7,169.7 47.9,159.4 49.1,149.2 50.4,138.9 52.4,128.6 54.1,118.3 55.5,108.0 56.5,97.8 58.4,87.5 58.6,77.2 60.7,67.0 62.1,56.7 61.2,46.4 62.4,36.1 65.5,25.8" class="c0"/>
<polyline points="41.4,221.1 42.3,210.8 43.7,200.5 45.1,190.2 45.8,180.0 46.3,169.7 47.2,159.4 48.6,149.2 49.9,138.9 51.0,128.6 51.7,118.3 53.4,108.0 54.4,97.8 55.8,87.5 57.0,77.2 58.3,67.0 59.9,56.7 61.0,46.4 61.8,36.1 62.6,25.8" class="c1"/>
<polyline points="44.2,221.1 48.5,210.8 52.6,200.5 58.4,190.2 63.0,180.0 67.0,169.7 73.9,159.4 79.4,149.2 83.1,138.9 87.8,128.6 91.6,118.3 94.4,108.0 98.8,97.8 106.0,87.5 110.2,77.2 112.3,67.0 120.0,56.7 119.2,46.4 129.5,36.1 133.0,25.8" class="c2"/>
<polyline points="42.3,221.1 45.3,210.8 48.9,200.5 51.9,190.2 55.0,180.0 59.5,169.7 62.5,159.4 65.4,149.2 68.6,138.9 71.5,128.6 76.2,118.3 79.9,108.0 80.3,97.8 83.8,87.5 89.9,77.2 90.8,67.0 96.4,56.7 98.4,46.4 106.6,36.1 108.8,25.8" class="c3"/>
<polyline points="42.1,221.1 44.8,210.8 47.5,200.5 50.3,190.2 53.4,180.0 56.1,169.7 57.8,159.4 61.0,149.2 63.9,138.9 67.4,128.6 68.7,118.3 73.6,108.0 77.9,97.8 81.0,87.5 81.7,77.2 87.7,67.0 90.1,56.7 91.5,46.4 90.7,36.1 95.4,25.8" class="c4"/>
<polyline points="45.6,221.1 51.6,210.8 57.0,200.5 62.5,190.2 68.1,180.0 75.0,169.7 77.8,159.4 82.6,149.2 86.2,138.9 92.4,128.6 96.3,118.3 99.1,108.0 102.1,97.8 106.3,87.5 118.3,77.2 122.4,67.0 124.7,56.7 135.3,46.4 142.5,36.1 141.2,25.8" class="c5"/>
<polyline points="41.4,221.1 43.6,210.8 45.6,200.5 47.9,190.2 50.1,180.0 52.0,169.7 53.7,159.4 55.5,149.2 58.8,138.9 60.8,128.6 61.5,118.3 66.0,108.0 67.3,97.8 71.4,87.5 73.5,77.2 76.3,67.0 78.6,56.7 79.2,46.4 82.6,36.1 84.8,25.8" class="c6"/>
<polyline points="43.0,221.1 46.8,210.8 50.2,200.5 55.3,190.2 59.7,180.0 64.6,169.7 69.5,159.4 72.6,149.2 79.1,138.9 81.9,128.6 86.1,118.3 86.8,108.0 90.6,97.8 98.1,87.5 104.2,77.2 108.6,67.0 111.3,56.7 118.2,46.4 125.1,36.1 125.4,25.8" class="c7"/>
<polyline points="44.8,221.1 49.9,210.8 55.6,200.5 62.3,190.2 67.4,180.0 72.6,169.7 80.6,159.4 83.7,149.2 91.3,138.9 93.6,128.6 100.5,118.3 107.6,108.0 109.6,97.8 113.4,87.5 124.4,77.2 131.3,67.0 134.7,56.7 144.6,46.4 147.7,36.1 153.9,25.8" class="c8"/>
<polyline points="46.4,221.1 52.8,210.8 59.3,200.5 64.2,190.2 70.4,180.0 75.2,169.7 80.9,159.4 84.5,149.2 91.2,138.9 93.6,128.6 100.3,118.3 104.3,108.0 110.7,97.8 118.2,87.5 128.4,77.2 135.0,67.0 136.9,56.7 140.6,46.4 144.2,36.1 148.2,25.8" class="c9"/>
<polyline points="49.3,221.1 58.2,210.8 68.1,200.5 77.2,190.2 87.5,180.0 97.3,169.7 108.7,159.4 119.6,149.2 129.6,138.9 140.4,128.6 155.8,118.3 167.9,108.0 160.9,97.8 184.4,87.5 182.4,77.2 199.4,67.0 181.9,56.7 195.3,46.4 242.4,36.1 230.4,25.8" class="c9"/>
<polyline points="42.8,221.1 45.9,210.8 49.0,200.5 51.8,190.2 54.1,180.0 57.0,169.7 60.7,159.4 63.4,149.2 68.5,138.9 72.8,128.6 75.5,118.3 77.0,108.0 79.8,97.8 82.9,87.5 84.3,77.2 86.4,67.0 87.7,56.7 93.3,46.4 97.7,36.1 102.3,25.8" class="c1"/>
<polyline points="45.9,221.1 52.4,210.8 59.0,200.5 65.5,190.2 72.2,180.0 77.7,169.7 83.5,159.4 88.7,149.2 94.0,138.9 97.8,128.6 101.2,118.3 105.6,108.0 118.6,97.8 121.6,87.5 133.6,77.2 141.3,67.0 141.2,56.7 145.9,46.4 149.5,36.1 155.6,25.8" class="c2"/>
<polyline points="45.9,221.1 51.4,210.8 57.0,200.5 61.3,190.2 67.1,180.0 74.9,169.7 80.2,159.4 87.0,149.2 92.4,138.9 97.1,128.6 100.7,118.3 102.7,108.0 109.5,97.8 112.6,87.5 116.9,77.2 126.0,67.0 129.4,56.7 136.4,46.4 144.9,36.1 143.7,25.8" class="c3"/>
<polyline points="41.4,221.1 42.3,210.8 43.7,200.5 45.1,190.2 45.8,180.0 46.5,169.7 48.3,159.4 49.9,149.2 51.3,138.9 52.7,128.6 54.7,118.3 55.2,108.0 56.7,97.8 58.5,87.5 58.6,77.2 59.9,67.0 61.9,56.7 63.3,46.4 65.9,36.1 66.8,25.8" class="c4"/>
<polyline points="41.4,221.1 43.2,210.8 45.4,200.5 47.5,190.2 49.7,180.0 52.9,169.7 55.1,159.4 57.2,149.2 59.4,138.9 63.0,128.6 65.4,118.3 67.6,108.0 68.3,97.8 71.8,87.5 74.3,77.2 75.4,67.0 77.8,56.7 78.7,46.4 81.1,36.1 86.4,25.8" class="c5"/>
<polyline points="44.3,221.1 49.3,210.8 53.5,200.5 58.7,190.2 64.0,180.0 68.7,169.7 75.0,159.4 79.1,149.2 87.4,138.9 89.6,128.6 95.1,118.3 94.0,108.0 99.3,97.8 106.5,87.5 109.5,77.2 115.4,67.0 124.5,56.7 133.1,46.4 138.4,36.1 137.6,25.8" class="c6"/>
<polyline points="44.3,221.1 49.4,210.8 54.0,200.5 59.6,190.2 63.8,180.0 70.1,169.7 74.5,159.4 82.2,149.2 89.3,138.9 95.9,128.6 99.8,118.3 108.7,108.0 109.5,97.8 116.1,87.5 119.9,77.2 124.8,67.0 125.9,56.7 132.3,46.4 138.7,36.1 147.2,25.8" class="c7"/>
<polyline points="44.0,221.1 48.8,210.8 53.7,200.5 59.7,190.2 65.3,180.0 69.1,169.7 76.1,159.4 82.0,149.2 83.0,138.9 91.2,128.6 93.1,118.3 100.2,108.0 102.1,97.8 107.9,87.5 115.3,77.2 119.5,67.0 125.9,56.7 136.4,46.4 140.5,36.1 142.8,25.8" class="c8"/>
<polyline points="45.8,221.1 52.0,210.8 57.9,200.5 63.0,190.2 69.3,180.0 74.4,169.7 80.1,159.4 87.8,149.2 94.4,138.9 98.7,128.6 99.7,118.3 108.2,108.0 111.4,97.8 114.1,87.5 115.6,77.2 121.1,67.0 127.3,56.7 140.2,46.4 145.2,36.1 145.2,25.8" class="c9"/>
<polyline points="41.4,221.1 42.3,210.8 43.9,200.5 45.5,190.2 47.7,180.0 49.4,169.7 51.0,159.4 52.9,149.2 53.5,138.9 55.7,128.6 56.7,118.3 59.1,108.0 62.3,97.8 64.6,87.5 67.9,77.2 68.5,67.0 70.6,56.7 72.0,46.4 72.9,36.1 75.9,25.8" class="c0"/>
<polyline points="42.4,221.1 45.4,210.8 48.2,200.5 51.3,190.2 55.4,180.0 58.4,169.7 61.6,159.4 64.7,149.2 68.7,138.9 71.6,128.6 73.8,118.3 74.2,108.0 78.1,97.8 80.8,87.5 83.2,77.2 89.5,67.0 92.2,56.7 98.7,46.4 101.1,36.1 102.7,25.8" class="c1"/>
<polyline points="41.4,221.1 43.4,210.8 45.3,200.5 46.7,190.2 48.5,180.0 50.6,169.7 52.4,159.4 53.8,149.2 56.1,138.9 59.6,128.6 62.2,118.3 63.6,108.0 66.6,97.8 69.2,87.5 70.1,77.2 70.8,67.0 73.6,56.7 74.1,46.4 76.4,36.1 79.1,25.8" class="c2"/>
<polyline points="41.4,221.1 42.3,210.8 43.7,200.5 45.1,190.2 45.8,180.0 47.0,169.7 48.0,159.4 48.6,149.2 50.3,138.9 52.1,128.6 53.1,118.3 54.4,108.0 55.8,97.8 58.0,87.5 58.8,77.2 60.0,67.0 61.1,56.7 61.4,46.4 62.9,36.1 65.1,25.8" class="c3"/>
<polyline points="43.9,221.1 48.1,210.8 53.1,200.5 58.6,190.2 63.4,180.0 66.3,169.7 71.0,159.4 72.5,149.2 78.0,138.9 78.8,128.6 86.7,118.3 89.4,108.0 94.7,97.8 100.2,87.5 103.2,77.2 107.7,67.0 108.8,56.7 109.3,46.4 114.9,36.1 123.2,25.8" class="c4"/>
<polyline points="43.9,221.1 47.6,210.8 51.7,200.5 55.3,190.2 58.7,180.0 61.5,169.7 67.3,159.4 71.5,149.2 73.9,138.9 80.9,128.6 84.3,118.3 90.7,108.0 92.5,97.8 95.0,87.5 103.0,77.2 102.3,67.0 102.8,56.7 106.5,46.4 110.2,36.1 119.6,25.8" class="c5"/>
<polyline points="41.4,221.1 42.3,210.8 43.9,200.5 45.4,190.2 46.7,180.0 48.2,169.7 49.2,159.4 50.8,149.2 51.8,138.9 53.1,128.6 53.9,118.3 55.8,108.0 57.5,97.8 60.4,87.5 62.3,77.2 63.6,67.0 65.0,56.7 65.0,46.4 65.6,36.1 67.9,25.8" class="c6"/>
<polyline points="42.8,221.1 46.5,210.8 50.1,200.5 53.4,190.2 57.2,180.0 60.5,169.7 65.6,159.4 70.2,149.2 74.7,138.9 78.4,128.6 81.9,118.3 82.7,108.0 88.6,97.8 87.7,87.5 91.0,77.2 95.6,67.0 100.0,56.7 103.5,46.4 107.9,36.1 112.5,25.8" class="c7"/>
<polyline points="41.4,221.1 42.6,210.8 44.2,200.5 46.0,190.2 47.8,180.0 49.5,169.7 51.7,159.4 54.3,149.2 55.5,138.9 57.0,128.6 58.9,118.3 59.6,108.0 61.5,97.8 62.8,87.5 65.4,77.2 67.6,67.0 70.9,56.7 73.5,46.4 74.9,36.1 76.4,25.8" class="c8"/>
<polyline points="41.4,221.1 42.5,210.8 44.0,200.5 45.2,190.2 46.6,180.0 48.4,169.7 50.3,159.4 51.7,149.2 53.9,138.9 55.2,128.6 56.4,118.3 58.8,108.0 59.7,97.8 60.7,87.5 62.0,77.2 62.8,67.0 63.4,56.7 65.5,46.4 68.6,36.1 69.6,25.8" class="c9"/>
<polyline points="45.0,221.1 50.1,210.8 56.7,200.5 63.2,190.2 69.4,180.0 75.6,169.7 79.2,159.4 82.5,149.2 90.2,138.9 96.3,128.6 101.5,118.3 107.2,108.0 108.5,97.8 120.3,87.5 129.9,77.2 132.5,67.0 142.0,56.7 147.8,46.4 150.5,36.1 153.0,25.8" class="c0"/>
<polyline points="41.6,221.1 43.9,210.8 46.2,200.5 49.6,190.2 52.2,180.0 56.0,169.7 59.1,159.4 62.4,149.2 64.5,138.9 66.5,128.6 70.6,118.3 72.2,108.0 75.0,97.8 79.6,87.5 82.1,77.2 89.4,67.0 91.6,56.7 94.6,46.4 96.5,36.1 100.5,25.8" class="c1"/>
<polyline points="45.0,221.1 51.0,210.8 56.2,200.5 62.4,190.2 68.0,180.0 72.8,169.7 81.0,159.4 85.6,149.2 90.1,138.9 90.8,128.6 99.9,118.3 100.4,108.0 110.7,97.8 113.4,87.5 117.5,77.2 130.4,67.0 131.6,56.7 145.3,46.4 145.0,36.1 147.9,25.8" class="c2"/>
<polyline points="41.7,221.1 44.2,210.8 46.8,200.5 49.6,190.2 52.4,180.0 55.7,169.7 58.4,159.4 61.5,149.2 64.9,138.9 68.5,128.6 69.8,118.3 72.7,108.0 77.1,97.8 77.5,87.5 79.4,77.2 84.5,67.0 87.9,56.7 86.8,46.4 89.2,36.1 97.1,25.8" class="c3"/>
<polyline points="44.8,221.1 50.6,210.8 55.4,200.5 60.7,190.2 65.6,180.0 70.1,169.7 74.7,159.4 77.1,149.2 82.0,138.9 86.7,128.6 93.2,118.3 98.4,108.0 108.1,97.8 109.6,87.5 115.4,77.2 125.9,67.0 125.8,56.7 129.8,46.4 135.0,36.1 140.7,25.8" class="c4"/>
<polyline points="43.8,221.1 48.3,210.8 53.4,200.5 58.5,190.2 62.0,180.0 66.4,169.7 71.1,159.4 77.6,149.2 86.0,138.9 91.1,128.6 95.2,118.3 106.3,108.0 108.1,97.8 114.9,87.5 120.7,77.2 127.7,67.0 131.0,56.7 130.7,46.4 140.8,36.1 147.7,25.8" class="c5"/>
<polyline points="41.6,221.1 43.8,210.8 46.6,200.5 48.6,190.2 51.7,180.0 54.1,169.7 56.4,159.4 57.8,149.2 61.7,138.9 65.2,128.6 69.2,118.3 72.9,108.0 73.6,97.8 76.1,87.5 77.2,77.2 82.7,67.0 83.0,56.7 86.5,46.4 91.7,36.1 93.8,25.8" class="c6"/>
<polyline points="43.4,221.1 47.3,210.8 51.8,200.5 55.7,190.2 59.1,180.0 64.3,169.7 69.4,159.4 73.5,149.2 78.4,138.9 84.2,128.6 89.3,118.3 94.3,108.0 96.3,97.8 99.2,87.5 102.4,77.2 103.9,67.0 110.5,56.7 119.7,46.4 125.3,36.1 129.4,25.8" class="c7"/>
<polyline points="44.4,221.1 49.5,210.8 54.1,200.5 59.1,190.2 65.1,180.0 70.7,169.7 73.6,159.4 79.4,149.2 85.6,138.9 94.7,128.6 99.7,118.3 105.5,108.0 114.2,97.8 121.5,87.5 126.3,77.2 131.8,67.0 138.3,56.7 140.4,46.4 145.3,36.1 152.5,25.8" class="c8"/>
<polyline points="44.0,221.1 48.8,210.8 54.0,200.5 59.6,190.2 64.6,180.0 69.8,169.7 75.7,159.4 79.3,149.2 85.2,138.9 90.2,128.6 93.2,118.3 98.8,108.0 98.7,97.8 106.3,87.5 111.4,77.2 116.0,67.0 116.8,56.7 125.6,46.4 132.6,36.1 139.5,25.8" class="c9"/>
<polyline points="41.4,221.1 42.3,210.8 43.9,200.5 45.2,190.2 46.7,180.0 48.3,169.7 49.6,159.4 51.2,149.2 52.8,138.9 54.1,128.6 55.5,118.3 57.5,108.0 61.0,97.8 62.0,87.5 65.7,77.2 66.5,67.0 67.6,56.7 70.0,46.4 69.9,36.1 72.8,25.8" class="c0"/>
<polyline points="41.4,221.1 42.3,210.8 43.7,200.5 45.1,190.2 45.8,180.0 46.6,169.7 47.7,159.4 49.4,149.2 51.0,138.9 52.4,128.6 53.9,118.3 54.7,108.0 55.3,97.8 56.0,87.5 59.1,77.2 61.1,67.0 62.8,56.7 64.6,46.4 66.0,36.1 66.1,25.8" class="c1"/>
<polyline points="44.1,221.1 49.6,210.8 53.7,200.5 58.6,190.2 63.9,180.0 66.7,169.7 70.8,159.4 76.2,149.2 82.9,138.9 88.8,128.6 90.9,118.3 96.6,108.0 103.4,97.8 112.4,87.5 116.1,77.2 121.1,67.0 121.8,56.7 124.2,46.4 131.2,36.1 138.4,25.8" class="c2"/>
<polyline points="44.9,221.1 48.6,210.8 53.0,200.5 57.4,190.2 60.6,180.0 65.6,169.7 69.2,159.4 73.2,149.2 77.1,138.9 83.4,128.6 87.9,118.3 91.2,108.0 93.4,97.8 95.0,87.5 97.8,77.2 104.1,67.0 103.9,56.7 108.2,46.4 108.9,36.1 116.9,25.8" class="c3"/>
<polyline points="48.7,221.1 57.5,210.8 65.8,200.5 74.5,190.2 82.8,180.0 90.1,169.7 97.1,159.4 107.0,149.2 115.1,138.9 126.3,128.6 144.0,118.3 140.0,108.0 170.2,97.8 178.3,87.5 161.2,77.2 177.3,67.0 177.6,56.7 198.3,46.4 189.3,36.1 212.3,25.8" class="c4"/>
<polyline points="42.0,221.1 44.4,210.8 47.1,200.5 49.2,190.2 51.7,180.0 54.7,169.7 57.4,159.4 60.3,149.2 61.4,138.9 65.0,128.6 67.6,118.3 68.4,108.0 71.4,97.8 72.5,87.5 77.1,77.2 80.6,67.0 83.9,56.7 86.2,46.4 88.4,36.1 91.5,25.8" class="c5"/>
<polyline points="43.8,221.1 47.5,210.8 52.0,200.5 55.8,190.2 60.4,180.0 64.8,169.7 67.5,159.4 71.5,149.2 74.0,138.9 75.4,128.6 81.3,118.3 84.9,108.0 89.6,97.8 95.8,87.5 96.8,77.2 104.4,67.0 108.6,56.7 106.2,46.4 111.9,36.1 114.7,25.8" class="c6"/>
<polyline points="41.4,221.1 42.3,210.8 43.7,200.5 45.1,190.2 46.0,180.0 46.9,169.7 47.9,159.4 48.8,149.2 50.4,138.9 51.4,128.6 53.8,118.3 55.2,108.0 57.1,97.8 58.0,87.5 59.5,77.2 60.6,67.0 61.4,56.7 62.1,46.4 63.5,36.1 66.5,25.8" class="c7"/>
<polyline points="41.8,221.1 44.2,210.8 46.6,200.5 49.0,190.2 51.5,180.0 53.4,169.7 56.1,159.4 58.5,149.2 61.2,138.9 64.8,128.6 66.6,118.3 67.2,108.0 70.7,97.8 72.9,87.5 74.4,77.2 76.2,67.0 79.1,56.7 81.4,46.4 85.6,36.1 88.1,25.8" class="c8"/>
<polyline points="42.9,221.1 46.6,210.8 50.0,200.5 53.2,190.2 56.0,180.0 59.0,169.7 62.6,159.4 65.5,149.2 68.6,138.9 73.2,128.6 74.0,118.3 79.5,108.0 83.9,97.8 88.9,87.5 89.8,77.2 94.4,67.0 97.5,56.7 100.3,46.4 103.4,36.1 106.7,25.8" class="c9"/>
<polyline points="45.0,221.1 55.0,210.8 67.0,200.5 83.0,190.2 99.0,180.0 114.8,169.7 130.2,159.4 144.2,149.2 155.9,138.9 162.6,128.6 169.2,118.3 173.5,108.0 179.1,97.8 185.3,87.5 191.4,77.2 198.0,67.0 207.7,56.7 214.3,46.4 217.9,36.1 229.3,25.8" class="c1"/>
<polyline points="47.9,221.1 56.2,210.8 64.5,200.5 72.8,190.2 81.1,180.0 89.4,169.7 97.7,159.4 105.9,149.2 113.5,138.9 124.5,128.6 136.1,118.3 147.8,108.0 158.6,97.8 166.6,87.5 173.2,77.2 179.8,67.0 185.0,56.7 190.0,46.4 195.0,36.1 200.0,25.8" class="c7"/>
<polyline points="48.8,221.1 58.1,210.8 67.4,200.5 76.7,190.2 86.0,180.0 95.2,169.7 104.5,159.4 113.8,149.2 122.3,138.9 133.2,128.6 144.1,118.3 153.0,108.0 162.3,97.8 170.3,87.5 178.3,77.2 187.8,67.0 194.6,56.7 211.3,46.4 231.0,36.1 251.4,25.8" class="c2"/>
<polyline points="50.0,221.1 59.8,210.8 68.0,200.5 80.0,190.2 90.0,180.0 100.0,169.7 112.0,159.4 120.6,149.2 132.2,138.9 139.8,128.6 150.0,118.3 152.9,108.0 149.2,97.8 149.9,87.5 156.4,77.2 163.7,67.0 193.0,56.7 215.0,46.4 235.0,36.1 245.0,25.8" class="c0"/>
<polyline points="41.0,221.1 41.9,210.8 43.3,200.5 44.7,190.2 45.4,180.0 45.9,169.7 46.8,159.4 48.2,149.2 49.5,138.9 50.6,128.6 50.9,118.3 51.6,108.0 53.1,97.8 55.2,87.5 56.6,77.2 57.9,67.0 59.5,56.7 60.6,46.4 60.9,36.1 61.6,25.8" class="bk"/>
<polyline points="42.6,221.1 45.5,210.8 48.5,200.5 51.4,190.2 55.1,180.0 58.8,169.7 62.5,159.4 66.2,149.2 70.6,138.9 75.0,128.6 79.4,118.3 83.8,108.0 87.3,97.8 90.9,87.5 94.5,77.2 98.0,67.0 101.8,56.7 105.5,46.4 109.2,36.1 113.0,25.8" class="bk"/>
<polyline points="45.3,221.1 50.8,210.8 56.2,200.5 61.7,190.2 68.3,180.0 74.8,169.7 81.4,159.4 88.0,149.2 93.1,138.9 98.2,128.6 103.2,118.3 108.3,108.0 114.3,97.8 120.4,87.5 126.5,77.2 132.5,67.0 138.9,56.7 145.4,46.4 151.9,36.1 158.3,25.8" class="bk"/>
<line x1="61.25" y1="231.35" x2="61.25" y2="25.85" stroke="#38a838" stroke-width="1.3" stroke-dasharray="3.0,1.5"/>
<line x1="82.95" y1="231.35" x2="82.95" y2="25.85" stroke="#cccc2a" stroke-width="1.3" stroke-dasharray="3.0,1.5"/>
<line x1="104.65" y1="231.35" x2="104.65" y2="25.85" stroke="#ffa42a" stroke-width="1.3" stroke-dasharray="3.0,1.5"/>
<line x1="126.35" y1="231.35" x2="126.35" y2="25.85" stroke="#ff3c3c" stroke-width="1.3" stroke-dasharray="3.0,1.5"/>
<rect x="30.00" y="15.50" width="232.20" height="225.70" class="fr"/>
<line x1="39.55" y1="241.20" x2="39.55" y2="243.50" class="tk"/>
<text transform="translate(40.75,246.10) rotate(-90)" text-anchor="end" class="tl">0.000</text>
<line x1="72.10" y1="241.20" x2="72.10" y2="243.50" class="tk"/>
<text transform="translate(73.30,246.10) rotate(-90)" text-anchor="end" class="tl">0.005</text>
<line x1="104.65" y1="241.20" x2="104.65" y2="243.50" class="tk"/>
<text transform="translate(105.85,246.10) rotate(-90)" text-anchor="end" class="tl">0.010</text>
<line x1="137.20" y1="241.20" x2="137.20" y2="243.50" class="tk"/>
<text transform="translate(138.40,246.10) rotate(-90)" text-anchor="end" class="tl">0.015</text>
<line x1="169.75" y1="241.20" x2="169.75" y2="243.50" class="tk"/>
<text transform="translate(170.95,246.10) rotate(-90)" text-anchor="end" class="tl">0.020</text>
<line x1="202.30" y1="241.20" x2="202.30" y2="243.50" class="tk"/>
<text transform="translate(203.50,246.10) rotate(-90)" text-anchor="end" class="tl">0.025</text>
<line x1="234.85" y1="241.20" x2="234.85" y2="243.50" class="tk"/>
<text transform="translate(236.05,246.10) rotate(-90)" text-anchor="end" class="tl">0.030</text>
<line x1="27.70" y1="231.35" x2="30.00" y2="231.35" class="tk"/>
<text x="25.70" y="234.25" text-anchor="end" class="tl">0</text>
<line x1="27.70" y1="190.25" x2="30.00" y2="190.25" class="tk"/>
<text x="25.70" y="193.15" text-anchor="end" class="tl">100</text>
<line x1="27.70" y1="149.15" x2="30.00" y2="149.15" class="tk"/>
<text x="25.70" y="152.05" text-anchor="end" class="tl">200</text>
<line x1="27.70" y1="108.05" x2="30.00" y2="108.05" class="tk"/>
<text x="25.70" y="110.95" text-anchor="end" class="tl">300</text>
<line x1="27.70" y1="66.95" x2="30.00" y2="66.95" class="tk"/>
<text x="25.70" y="69.85" text-anchor="end" class="tl">400</text>
<line x1="27.70" y1="25.85" x2="30.00" y2="25.85" class="tk"/>
<text x="25.70" y="28.75" text-anchor="end" class="tl">500</text>
<text transform="translate(11.30,128.95) rotate(-90)" text-anchor="middle" class="al" style="font-size:6.2px" textLength="58.5" lengthAdjust="spacingAndGlyphs">Sa(T1,5%)(cm/s²)</text>
<text x="146.10" y="12.0" text-anchor="middle" class="ti" textLength="114.4" lengthAdjust="spacingAndGlyphs">IDA CURVE - STORY DRIFT</text>
<text x="146.00" y="270.60" text-anchor="middle" class="al" textLength="63.6" lengthAdjust="spacingAndGlyphs">Story Drift (cm/cm)</text>
<text x="134.20" y="292.9" text-anchor="middle" class="cp" textLength="17.4" lengthAdjust="spacingAndGlyphs">(<tspan font-weight="bold">a</tspan>)</text>
<line x1="324.35" y1="15.80" x2="324.35" y2="237.70" class="g"/>
<line x1="352.98" y1="15.80" x2="352.98" y2="237.70" class="g"/>
<line x1="381.60" y1="15.80" x2="381.60" y2="237.70" class="g"/>
<line x1="410.23" y1="15.80" x2="410.23" y2="237.70" class="g"/>
<line x1="438.85" y1="15.80" x2="438.85" y2="237.70" class="g"/>
<line x1="467.48" y1="15.80" x2="467.48" y2="237.70" class="g"/>
<line x1="496.10" y1="15.80" x2="496.10" y2="237.70" class="g"/>
<line x1="524.73" y1="15.80" x2="524.73" y2="237.70" class="g"/>
<line x1="316.60" y1="227.35" x2="544.00" y2="227.35" class="g"/>
<line x1="316.60" y1="186.95" x2="544.00" y2="186.95" class="g"/>
<line x1="316.60" y1="146.55" x2="544.00" y2="146.55" class="g"/>
<line x1="316.60" y1="106.15" x2="544.00" y2="106.15" class="g"/>
<line x1="316.60" y1="65.75" x2="544.00" y2="65.75" class="g"/>
<line x1="316.60" y1="25.35" x2="544.00" y2="25.35" class="g"/>
<polyline points="327.5,217.2 330.7,207.1 332.4,197.0 335.3,186.9 336.8,176.8 337.8,166.8 339.3,156.6 339.9,146.5 342.2,136.4 344.7,126.3 347.0,116.2 351.0,106.1 355.2,96.0 358.2,85.9 361.3,75.8 365.4,65.7 366.2,55.6 370.4,45.5 371.7,35.4 377.1,25.3" class="c0"/>
<polyline points="328.0,217.2 331.0,207.1 333.3,197.0 335.6,186.9 340.2,176.8 345.0,166.8 351.8,156.6 358.5,146.5 364.6,136.4 371.2,126.3 375.2,116.2 381.4,106.1 387.0,96.0 394.3,85.9 402.9,75.8 414.9,65.7 426.0,55.6 432.9,45.5 441.2,35.4 445.8,25.3" class="c1"/>
<polyline points="329.4,217.2 335.4,207.1 341.1,197.0 347.6,186.9 354.5,176.8 361.9,166.8 370.6,156.6 379.7,146.5 388.1,136.4 396.7,126.3 407.8,116.2 416.7,106.1 426.2,96.0 436.0,85.9 441.7,75.8 447.4,65.7 454.8,55.6 462.5,45.5 466.2,35.4 486.5,25.3" class="c2"/>
<polyline points="327.3,217.2 330.7,207.1 332.9,197.0 335.6,186.9 336.9,176.8 340.0,166.8 343.3,156.6 347.8,146.5 351.2,136.4 355.4,126.3 361.2,116.2 364.2,106.1 366.6,96.0 370.2,85.9 371.7,75.8 376.5,65.7 382.3,55.6 387.6,45.5 393.3,35.4 395.8,25.3" class="c3"/>
<polyline points="328.5,217.2 330.1,207.1 333.6,197.0 338.6,186.9 344.0,176.8 350.3,166.8 357.5,156.6 365.5,146.5 374.1,136.4 385.3,126.3 397.1,116.2 405.0,106.1 416.9,96.0 426.6,85.9 434.4,75.8 444.1,65.7 454.8,55.6 468.2,45.5 490.7,35.4 500.4,25.3" class="c4"/>
<polyline points="327.2,217.2 331.4,207.1 336.3,197.0 341.5,186.9 347.2,176.8 352.0,166.8 357.2,156.6 361.9,146.5 369.5,136.4 375.1,126.3 383.4,116.2 392.5,106.1 402.3,96.0 408.4,85.9 417.1,75.8 420.5,65.7 425.5,55.6 430.8,45.5 434.9,35.4 450.3,25.3" class="c5"/>
<polyline points="328.0,217.2 329.7,207.1 333.4,197.0 335.9,186.9 339.0,176.8 343.3,166.8 347.0,156.6 351.6,146.5 356.4,136.4 360.3,126.3 362.8,116.2 366.5,106.1 371.4,96.0 375.0,85.9 380.6,75.8 386.1,65.7 394.7,55.6 402.1,45.5 409.6,35.4 411.0,25.3" class="c6"/>
<polyline points="327.1,217.2 330.9,207.1 333.1,197.0 335.6,186.9 335.9,176.8 338.5,166.8 340.6,156.6 343.6,146.5 347.2,136.4 351.5,126.3 356.5,116.2 360.8,106.1 364.2,96.0 368.4,85.9 374.6,75.8 378.0,65.7 382.5,55.6 384.6,45.5 388.2,35.4 394.3,25.3" class="c7"/>
<polyline points="328.1,217.2 330.5,207.1 332.7,197.0 334.9,186.9 335.9,176.8 337.4,166.8 338.6,156.6 341.5,146.5 345.5,136.4 350.1,126.3 353.2,116.2 358.4,106.1 361.8,96.0 365.6,85.9 369.7,75.8 372.1,65.7 375.8,55.6 380.3,45.5 385.9,35.4 392.3,25.3" class="c8"/>
<polyline points="328.1,217.2 330.8,207.1 332.7,197.0 334.9,186.9 338.2,176.8 343.1,166.8 348.8,156.6 354.6,146.5 361.9,136.4 368.2,126.3 376.2,116.2 383.1,106.1 391.5,96.0 397.5,85.9 404.4,75.8 412.7,65.7 419.8,55.6 429.7,45.5 438.3,35.4 453.9,25.3" class="c9"/>
<polyline points="328.1,217.2 329.8,207.1 333.2,197.0 336.6,186.9 342.1,176.8 347.3,166.8 353.4,156.6 359.7,146.5 366.3,136.4 372.4,126.3 377.5,116.2 385.9,106.1 392.0,96.0 397.3,85.9 403.7,75.8 410.9,65.7 415.5,55.6 427.1,45.5 433.6,35.4 446.7,25.3" class="c0"/>
<polyline points="328.2,217.2 330.3,207.1 333.4,197.0 335.5,186.9 338.3,176.8 343.1,166.8 347.8,156.6 351.8,146.5 358.3,136.4 365.2,126.3 372.1,116.2 377.2,106.1 382.6,96.0 387.8,85.9 395.3,75.8 397.5,65.7 404.2,55.6 408.3,45.5 417.3,35.4 427.7,25.3" class="c1"/>
<polyline points="328.4,217.2 330.3,207.1 334.1,197.0 339.1,186.9 344.9,176.8 351.1,166.8 357.8,156.6 366.0,146.5 377.1,136.4 385.9,126.3 399.3,116.2 408.5,106.1 420.4,96.0 433.3,85.9 442.6,75.8 454.0,65.7 468.1,55.6 477.8,45.5 487.9,35.4 506.2,25.3" class="c2"/>
<polyline points="327.3,217.2 330.6,207.1 334.0,197.0 337.9,186.9 341.4,176.8 344.3,166.8 347.3,156.6 350.6,146.5 353.9,136.4 357.9,126.3 361.3,116.2 365.9,106.1 370.5,96.0 376.0,85.9 381.9,75.8 386.5,65.7 390.3,55.6 394.7,45.5 399.1,35.4 400.1,25.3" class="c3"/>
<polyline points="328.0,217.2 330.5,207.1 332.3,197.0 334.5,186.9 336.6,176.8 338.1,166.8 339.1,156.6 340.1,146.5 343.0,136.4 344.4,126.3 345.5,116.2 346.3,106.1 350.6,96.0 353.7,85.9 356.4,75.8 358.1,65.7 360.1,55.6 361.9,45.5 364.2,35.4 364.9,25.3" class="c4"/>
<polyline points="327.7,217.2 329.8,207.1 332.4,197.0 335.0,186.9 336.8,176.8 338.6,166.8 338.7,156.6 340.4,146.5 342.4,136.4 345.9,126.3 345.2,116.2 345.7,106.1 349.3,96.0 353.3,85.9 356.4,75.8 358.7,65.7 360.8,55.6 363.0,45.5 364.2,35.4 365.6,25.3" class="c5"/>
<polyline points="328.3,217.2 329.5,207.1 332.8,197.0 336.8,186.9 341.1,176.8 345.9,166.8 350.8,156.6 357.3,146.5 362.0,136.4 371.0,126.3 377.3,116.2 386.2,106.1 396.3,96.0 404.5,85.9 410.2,75.8 414.8,65.7 422.7,55.6 428.5,45.5 439.3,35.4 450.9,25.3" class="c6"/>
<polyline points="327.3,217.2 330.6,207.1 332.5,197.0 334.5,186.9 338.0,176.8 342.0,166.8 346.3,156.6 350.8,146.5 355.3,136.4 361.0,126.3 365.4,116.2 373.9,106.1 381.9,96.0 390.8,85.9 398.8,75.8 405.2,65.7 409.8,55.6 414.9,45.5 421.0,35.4 433.5,25.3" class="c7"/>
<polyline points="328.3,217.2 331.1,207.1 335.8,197.0 341.4,186.9 346.4,176.8 352.5,166.8 359.5,156.6 367.4,146.5 378.5,136.4 387.7,126.3 396.6,116.2 405.7,106.1 416.1,96.0 421.0,85.9 426.8,75.8 438.7,65.7 448.7,55.6 464.5,45.5 473.1,35.4 486.1,25.3" class="c8"/>
<polyline points="327.5,217.2 330.3,207.1 332.6,197.0 335.0,186.9 337.1,176.8 339.2,166.8 342.2,156.6 345.7,146.5 348.1,136.4 350.0,126.3 352.3,116.2 355.1,106.1 358.2,96.0 361.7,85.9 364.5,75.8 368.8,65.7 374.4,55.6 377.8,45.5 380.9,35.4 382.8,25.3" class="c9"/>
<polyline points="329.4,217.2 334.7,207.1 340.4,197.0 346.6,186.9 353.7,176.8 359.1,166.8 366.8,156.6 374.4,146.5 381.6,136.4 385.7,126.3 391.0,116.2 399.0,106.1 404.1,96.0 407.0,85.9 410.3,75.8 420.3,65.7 424.5,55.6 435.1,45.5 442.1,35.4 448.1,25.3" class="c0"/>
<polyline points="328.0,217.2 329.6,207.1 333.2,197.0 335.6,186.9 337.2,176.8 340.4,166.8 345.0,156.6 349.3,146.5 353.9,136.4 360.2,126.3 366.0,116.2 371.0,106.1 375.8,96.0 381.7,85.9 385.4,75.8 389.8,65.7 395.1,55.6 398.3,45.5 404.8,35.4 414.3,25.3" class="c1"/>
<polyline points="331.6,217.2 339.4,207.1 346.1,197.0 354.2,186.9 360.9,176.8 370.3,166.8 380.8,156.6 388.5,146.5 398.0,136.4 407.4,126.3 413.7,116.2 418.4,106.1 424.6,96.0 430.7,85.9 443.1,75.8 451.5,65.7 464.6,55.6 471.7,45.5 488.0,35.4 488.1,25.3" class="c2"/>
<polyline points="327.9,217.2 330.4,207.1 334.8,197.0 339.8,186.9 345.2,176.8 351.3,166.8 356.6,156.6 362.6,146.5 370.0,136.4 375.4,126.3 383.9,116.2 394.6,106.1 402.2,96.0 411.9,85.9 422.8,75.8 429.9,65.7 438.5,55.6 444.3,45.5 453.0,35.4 465.0,25.3" class="c3"/>
<polyline points="329.8,217.2 335.3,207.1 341.5,197.0 346.5,186.9 353.5,176.8 360.8,166.8 366.3,156.6 373.4,146.5 381.5,136.4 387.8,126.3 394.4,116.2 400.4,106.1 402.9,96.0 407.9,85.9 412.4,75.8 416.3,65.7 426.5,55.6 433.1,45.5 440.8,35.4 448.7,25.3" class="c4"/>
<polyline points="327.3,217.2 330.4,207.1 334.4,197.0 339.8,186.9 345.5,176.8 352.7,166.8 358.7,156.6 365.5,146.5 374.4,136.4 381.6,126.3 390.4,116.2 399.7,106.1 411.5,96.0 420.8,85.9 435.4,75.8 448.3,65.7 463.5,55.6 474.8,45.5 490.8,35.4 494.4,25.3" class="c5"/>
<polyline points="331.7,217.2 339.2,207.1 347.6,197.0 355.6,186.9 362.9,176.8 371.6,166.8 378.2,156.6 384.7,146.5 393.4,136.4 402.3,126.3 411.5,116.2 421.2,106.1 430.7,96.0 442.0,85.9 444.5,75.8 449.8,65.7 455.6,55.6 460.0,45.5 471.7,35.4 487.3,25.3" class="c6"/>
<polyline points="332.5,217.2 339.9,207.1 347.9,197.0 355.6,186.9 365.0,176.8 372.7,166.8 384.0,156.6 391.7,146.5 400.7,136.4 411.3,126.3 418.3,116.2 423.1,106.1 431.9,96.0 434.5,85.9 445.0,75.8 451.9,65.7 461.3,55.6 470.6,45.5 479.9,35.4 489.4,25.3" class="c7"/>
<polyline points="328.3,217.2 332.5,207.1 337.2,197.0 342.4,186.9 347.1,176.8 352.9,166.8 359.2,156.6 366.1,146.5 372.1,136.4 375.3,126.3 379.5,116.2 383.8,106.1 388.4,96.0 394.6,85.9 399.9,75.8 408.3,65.7 415.9,55.6 427.3,45.5 432.7,35.4 433.7,25.3" class="c8"/>
<polyline points="327.9,217.2 330.1,207.1 333.1,197.0 335.8,186.9 336.9,176.8 341.2,166.8 346.1,156.6 351.9,146.5 357.6,136.4 363.5,126.3 368.9,116.2 374.0,106.1 380.1,96.0 383.8,85.9 390.7,75.8 398.9,65.7 406.8,55.6 415.8,45.5 424.2,35.4 432.8,25.3" class="c9"/>
<polyline points="327.3,217.2 330.7,207.1 332.7,197.0 334.7,186.9 336.6,176.8 340.2,166.8 345.6,156.6 350.0,146.5 354.9,136.4 360.6,126.3 366.1,116.2 370.4,106.1 376.3,96.0 381.2,85.9 387.2,75.8 391.6,65.7 397.6,55.6 404.6,45.5 415.2,35.4 423.3,25.3" class="c0"/>
<polyline points="327.9,217.2 329.5,207.1 332.5,197.0 336.6,186.9 341.8,176.8 346.6,166.8 352.3,156.6 358.9,146.5 366.6,136.4 374.7,126.3 384.3,116.2 393.9,106.1 402.5,96.0 414.3,85.9 423.2,75.8 427.7,65.7 439.8,55.6 448.2,45.5 455.7,35.4 469.7,25.3" class="c1"/>
<polyline points="329.8,217.2 336.1,207.1 343.6,197.0 351.1,186.9 358.9,176.8 367.3,166.8 375.3,156.6 384.1,146.5 390.0,136.4 398.1,126.3 403.2,116.2 411.5,106.1 419.1,96.0 428.2,85.9 440.3,75.8 446.3,65.7 463.5,55.6 472.4,45.5 483.4,35.4 485.8,25.3" class="c2"/>
<polyline points="328.3,217.2 330.3,207.1 332.2,197.0 334.9,186.9 338.0,176.8 342.3,166.8 346.1,156.6 350.5,146.5 354.4,136.4 358.9,126.3 363.9,116.2 367.3,106.1 371.6,96.0 374.5,85.9 378.6,75.8 383.2,65.7 389.2,55.6 395.2,45.5 402.0,35.4 408.1,25.3" class="c3"/>
<polyline points="329.5,217.2 335.5,207.1 341.5,197.0 348.0,186.9 353.9,176.8 359.2,166.8 364.5,156.6 371.1,146.5 379.0,136.4 387.1,126.3 396.2,116.2 405.5,106.1 414.3,96.0 416.5,85.9 423.9,75.8 425.7,65.7 431.2,55.6 442.1,45.5 449.6,35.4 460.4,25.3" class="c4"/>
<polyline points="327.7,217.2 329.7,207.1 334.0,197.0 338.8,186.9 343.4,176.8 349.4,166.8 355.4,156.6 361.0,146.5 368.3,136.4 373.4,126.3 382.6,116.2 389.7,106.1 395.5,96.0 404.4,85.9 416.9,75.8 428.2,65.7 435.1,55.6 447.6,45.5 461.6,35.4 466.0,25.3" class="c5"/>
<polyline points="328.6,217.2 334.1,207.1 340.4,197.0 347.8,186.9 356.5,176.8 363.6,166.8 371.7,156.6 378.3,146.5 385.5,136.4 392.2,126.3 398.5,116.2 407.3,106.1 419.8,96.0 432.2,85.9 443.5,75.8 453.1,65.7 459.7,55.6 459.1,45.5 471.2,35.4 485.5,25.3" class="c6"/>
<polyline points="330.4,217.2 337.5,207.1 345.4,197.0 353.2,186.9 360.3,176.8 367.2,166.8 373.8,156.6 378.7,146.5 384.7,136.4 391.4,126.3 401.5,116.2 409.5,106.1 420.5,96.0 429.5,85.9 438.8,75.8 443.5,65.7 447.9,55.6 458.3,45.5 458.7,35.4 472.7,25.3" class="c7"/>
<polyline points="327.4,217.2 330.0,207.1 333.5,197.0 335.8,186.9 337.2,176.8 340.0,166.8 342.2,156.6 344.4,146.5 348.0,136.4 350.2,126.3 354.0,116.2 357.7,106.1 361.9,96.0 364.8,85.9 367.2,75.8 369.8,65.7 371.1,55.6 374.9,45.5 376.9,35.4 379.9,25.3" class="c8"/>
<polyline points="327.9,217.2 329.7,207.1 332.4,197.0 334.5,186.9 336.9,176.8 338.0,166.8 338.7,156.6 341.1,146.5 342.5,136.4 345.0,126.3 347.4,116.2 349.5,106.1 353.2,96.0 356.1,85.9 361.0,75.8 364.5,65.7 367.5,55.6 370.3,45.5 372.9,35.4 374.9,25.3" class="c9"/>
<polyline points="327.3,217.2 330.2,207.1 333.5,197.0 337.1,186.9 341.9,176.8 346.8,166.8 351.9,156.6 356.4,146.5 363.2,136.4 371.7,126.3 377.4,116.2 387.3,106.1 393.9,96.0 403.9,85.9 407.0,75.8 416.7,65.7 420.4,55.6 425.3,45.5 431.1,35.4 447.4,25.3" class="c0"/>
<polyline points="327.2,217.2 330.6,207.1 333.3,197.0 335.7,186.9 336.3,176.8 338.3,166.8 339.1,156.6 340.9,146.5 342.2,136.4 345.7,126.3 346.4,116.2 346.3,106.1 350.0,96.0 353.5,85.9 355.9,75.8 357.4,65.7 361.2,55.6 363.1,45.5 368.0,35.4 369.5,25.3" class="c1"/>
<polyline points="330.0,217.2 335.7,207.1 341.7,197.0 347.1,186.9 352.1,176.8 357.4,166.8 361.5,156.6 368.9,146.5 375.2,136.4 380.5,126.3 387.9,116.2 396.0,106.1 402.2,96.0 406.2,85.9 409.5,75.8 414.2,65.7 416.8,55.6 424.0,45.5 432.1,35.4 440.1,25.3" class="c2"/>
<polyline points="327.8,217.2 330.9,207.1 333.0,197.0 334.8,186.9 336.6,176.8 338.0,166.8 341.6,156.6 344.9,146.5 348.7,136.4 353.9,126.3 357.8,116.2 362.7,106.1 367.1,96.0 373.0,85.9 379.4,75.8 386.3,65.7 390.8,55.6 400.6,45.5 407.0,35.4 411.6,25.3" class="c3"/>
<polyline points="327.8,217.2 330.2,207.1 332.9,197.0 336.2,186.9 339.6,176.8 342.5,166.8 346.4,156.6 349.6,146.5 353.3,136.4 357.2,126.3 361.0,116.2 365.0,106.1 369.5,96.0 374.2,85.9 380.1,75.8 384.9,65.7 390.7,55.6 393.8,45.5 399.7,35.4 401.1,25.3" class="c4"/>
<polyline points="327.7,217.2 330.2,207.1 333.2,197.0 336.3,186.9 340.2,176.8 344.6,166.8 348.6,156.6 353.1,146.5 356.4,136.4 363.2,126.3 367.7,116.2 376.6,106.1 383.4,96.0 390.0,85.9 397.5,75.8 401.1,65.7 404.8,55.6 411.0,45.5 417.2,35.4 426.5,25.3" class="c5"/>
<polyline points="327.6,217.2 330.3,207.1 333.0,197.0 337.1,186.9 342.1,176.8 348.1,166.8 354.1,156.6 360.7,146.5 369.7,136.4 377.6,126.3 387.5,116.2 398.8,106.1 408.7,96.0 419.4,85.9 431.0,75.8 439.5,65.7 452.3,55.6 459.7,45.5 467.9,35.4 484.7,25.3" class="c6"/>
<polyline points="327.7,217.2 330.3,207.1 333.2,197.0 337.7,186.9 343.0,176.8 349.5,166.8 356.3,156.6 363.5,146.5 373.5,136.4 382.0,126.3 390.1,116.2 402.0,106.1 414.6,96.0 423.6,85.9 436.7,75.8 443.5,65.7 455.6,55.6 469.4,45.5 477.4,35.4 489.3,25.3" class="c7"/>
<polyline points="327.9,217.2 330.9,207.1 334.0,197.0 338.5,186.9 343.3,176.8 348.9,166.8 354.7,156.6 360.7,146.5 369.7,136.4 377.0,126.3 386.8,116.2 394.4,106.1 404.7,96.0 412.9,85.9 421.6,75.8 435.5,65.7 444.3,55.6 449.7,45.5 461.7,35.4 467.5,25.3" class="c8"/>
<polyline points="327.6,217.2 330.9,207.1 332.4,197.0 335.8,186.9 338.1,176.8 341.4,166.8 344.5,156.6 348.6,146.5 351.5,136.4 354.6,126.3 359.0,116.2 361.6,106.1 365.9,96.0 371.6,85.9 374.5,75.8 380.4,65.7 387.0,55.6 392.5,45.5 395.8,35.4 399.7,25.3" class="c9"/>
<polyline points="328.3,217.2 330.8,207.1 334.6,197.0 339.4,186.9 345.3,176.8 350.4,166.8 356.6,156.6 361.1,146.5 367.1,136.4 371.5,126.3 376.6,116.2 380.9,106.1 385.5,96.0 392.7,85.9 399.7,75.8 407.4,65.7 418.6,55.6 424.9,45.5 433.1,35.4 436.2,25.3" class="c0"/>
<polyline points="327.2,217.2 330.7,207.1 332.4,197.0 335.8,186.9 336.9,176.8 337.3,166.8 339.5,156.6 340.4,146.5 343.2,136.4 345.6,126.3 346.3,116.2 348.6,106.1 350.8,96.0 354.7,85.9 357.3,75.8 358.9,65.7 360.8,55.6 364.0,45.5 365.2,35.4 366.9,25.3" class="c1"/>
<polyline points="327.8,217.2 330.2,207.1 333.5,197.0 338.1,186.9 343.2,176.8 347.9,166.8 353.6,156.6 359.3,146.5 363.2,136.4 367.2,126.3 371.0,116.2 375.7,106.1 383.1,96.0 390.9,85.9 398.2,75.8 406.0,65.7 411.4,55.6 418.5,45.5 422.0,35.4 428.4,25.3" class="c2"/>
<polyline points="328.4,217.2 330.5,207.1 333.0,197.0 335.8,186.9 337.9,176.8 340.4,166.8 342.8,156.6 345.4,146.5 348.2,136.4 352.6,126.3 355.6,116.2 358.0,106.1 362.7,96.0 366.9,85.9 369.6,75.8 371.8,65.7 375.7,55.6 378.2,45.5 379.9,35.4 382.2,25.3" class="c3"/>
<polyline points="327.1,217.2 329.6,207.1 332.8,197.0 334.7,186.9 336.9,176.8 337.2,166.8 339.8,156.6 341.1,146.5 343.3,136.4 345.0,126.3 348.5,116.2 351.6,106.1 355.2,96.0 358.1,85.9 361.6,75.8 365.3,65.7 367.2,55.6 371.6,45.5 373.5,35.4 381.0,25.3" class="c4"/>
<polyline points="327.0,217.2 329.8,207.1 333.1,197.0 335.1,186.9 336.8,176.8 340.0,166.8 343.7,156.6 347.6,146.5 351.4,136.4 356.3,126.3 359.8,116.2 366.1,106.1 371.3,96.0 375.9,85.9 381.8,75.8 387.9,65.7 391.2,55.6 396.1,45.5 399.0,35.4 405.4,25.3" class="c5"/>
<polyline points="328.2,217.2 329.7,207.1 333.3,197.0 334.5,186.9 336.2,176.8 337.8,166.8 340.0,156.6 343.7,146.5 347.7,136.4 351.0,126.3 354.8,116.2 358.5,106.1 360.7,96.0 365.6,85.9 368.1,75.8 369.7,65.7 374.4,55.6 376.5,45.5 379.3,35.4 387.0,25.3" class="c6"/>
<polyline points="327.3,217.2 330.3,207.1 332.5,197.0 336.1,186.9 340.1,176.8 345.5,166.8 350.2,156.6 356.2,146.5 362.3,136.4 366.5,126.3 373.9,116.2 378.8,106.1 383.1,96.0 388.4,85.9 395.1,75.8 403.0,65.7 408.8,55.6 414.1,45.5 421.6,35.4 435.5,25.3" class="c7"/>
<polyline points="327.1,217.2 329.7,207.1 333.1,197.0 334.8,186.9 336.5,176.8 339.5,166.8 343.7,156.6 347.6,146.5 351.4,136.4 356.2,126.3 360.8,116.2 364.8,106.1 368.3,96.0 371.0,85.9 374.2,75.8 377.3,65.7 384.3,55.6 389.7,45.5 395.3,35.4 400.7,25.3" class="c8"/>
<polyline points="327.9,217.2 330.0,207.1 332.4,197.0 337.3,186.9 342.8,176.8 349.6,166.8 356.7,156.6 363.8,146.5 372.5,136.4 380.6,126.3 390.8,116.2 397.4,106.1 405.1,96.0 412.9,85.9 421.9,75.8 432.5,65.7 442.5,55.6 454.2,45.5 474.6,35.4 486.0,25.3" class="c9"/>
<polyline points="328.3,217.2 330.5,207.1 333.5,197.0 334.7,186.9 336.3,176.8 338.3,166.8 340.1,156.6 344.2,146.5 348.6,136.4 353.0,126.3 357.3,116.2 363.7,106.1 370.1,96.0 375.3,85.9 379.9,75.8 387.7,65.7 393.5,55.6 396.9,45.5 401.1,35.4 408.8,25.3" class="c0"/>
<polyline points="328.2,217.2 331.0,207.1 333.2,197.0 338.2,186.9 343.6,176.8 350.3,166.8 355.8,156.6 364.4,146.5 372.1,136.4 382.2,126.3 393.4,116.2 405.4,106.1 418.2,96.0 430.0,85.9 439.7,75.8 452.3,65.7 458.6,55.6 471.6,45.5 483.1,35.4 501.5,25.3" class="c1"/>
<polyline points="327.1,217.2 330.3,207.1 332.7,197.0 335.8,186.9 337.2,176.8 338.1,166.8 338.8,156.6 340.2,146.5 342.5,136.4 345.1,126.3 346.1,116.2 350.3,106.1 353.7,96.0 357.4,85.9 362.4,75.8 364.8,65.7 369.9,55.6 372.1,45.5 377.1,35.4 380.7,25.3" class="c2"/>
<polyline points="327.0,217.2 330.9,207.1 333.6,197.0 338.1,186.9 344.2,176.8 350.3,166.8 356.5,156.6 363.4,146.5 370.7,136.4 375.7,126.3 384.3,116.2 389.4,106.1 398.2,96.0 406.5,85.9 412.3,75.8 425.4,65.7 437.2,55.6 444.9,45.5 455.3,35.4 467.1,25.3" class="c3"/>
<polyline points="327.4,217.2 329.6,207.1 332.2,197.0 335.2,186.9 336.8,176.8 338.9,166.8 341.5,156.6 343.1,146.5 345.8,136.4 347.6,126.3 349.3,116.2 352.0,106.1 354.9,96.0 358.5,85.9 360.6,75.8 363.5,65.7 368.2,55.6 371.0,45.5 373.2,35.4 372.9,25.3" class="c4"/>
<polyline points="328.3,217.2 330.3,207.1 333.0,197.0 335.9,186.9 337.2,176.8 340.3,166.8 344.0,156.6 348.2,146.5 352.6,136.4 358.0,126.3 361.7,116.2 365.1,106.1 366.2,96.0 370.9,85.9 374.2,75.8 380.5,65.7 386.5,55.6 392.0,45.5 399.6,35.4 399.7,25.3" class="c5"/>
<polyline points="327.2,217.2 330.0,207.1 333.3,197.0 336.7,186.9 340.9,176.8 345.8,166.8 350.2,156.6 355.6,146.5 362.7,136.4 368.3,126.3 375.2,116.2 382.2,106.1 388.8,96.0 394.9,85.9 397.7,75.8 404.2,65.7 411.3,55.6 416.5,45.5 418.5,35.4 430.6,25.3" class="c6"/>
<polyline points="328.2,217.2 330.0,207.1 332.7,197.0 335.3,186.9 337.2,176.8 337.5,166.8 340.0,156.6 340.9,146.5 342.7,136.4 345.4,126.3 345.8,116.2 348.5,106.1 350.7,96.0 353.3,85.9 355.9,75.8 358.1,65.7 361.1,55.6 362.6,45.5 362.8,35.4 365.0,25.3" class="c7"/>
<polyline points="327.1,217.2 330.5,207.1 333.2,197.0 335.1,186.9 335.9,176.8 338.2,166.8 341.3,156.6 345.2,146.5 349.3,136.4 354.9,126.3 359.4,116.2 364.4,106.1 368.9,96.0 371.5,85.9 375.8,75.8 379.7,65.7 387.0,55.6 390.3,45.5 396.9,35.4 406.8,25.3" class="c8"/>
<polyline points="327.8,217.2 331.9,207.1 337.0,197.0 342.6,186.9 347.8,176.8 353.9,166.8 360.2,156.6 368.3,146.5 375.7,136.4 384.2,126.3 393.2,116.2 403.0,106.1 411.9,96.0 423.9,85.9 431.0,75.8 444.8,65.7 452.4,55.6 458.3,45.5 468.6,35.4 475.4,25.3" class="c9"/>
<polyline points="327.4,217.2 329.9,207.1 334.4,197.0 340.5,186.9 346.4,176.8 355.2,166.8 362.6,156.6 371.2,146.5 380.0,136.4 390.5,126.3 399.4,116.2 405.4,106.1 415.2,96.0 423.1,85.9 438.6,75.8 451.3,65.7 463.1,55.6 477.9,45.5 497.8,35.4 502.8,25.3" class="c0"/>
<polyline points="328.4,217.2 330.5,207.1 335.0,197.0 339.9,186.9 344.7,176.8 349.9,166.8 356.3,156.6 364.5,146.5 372.4,136.4 382.7,126.3 389.3,116.2 398.9,106.1 407.8,96.0 413.3,85.9 419.6,75.8 424.8,65.7 434.5,55.6 447.1,45.5 464.8,35.4 470.8,25.3" class="c1"/>
<polyline points="328.2,217.2 331.8,207.1 335.8,197.0 339.4,186.9 343.3,176.8 347.7,166.8 351.3,156.6 355.6,146.5 361.6,136.4 365.2,126.3 371.1,116.2 376.0,106.1 379.6,96.0 383.1,85.9 386.9,75.8 393.2,65.7 394.0,55.6 398.5,45.5 401.7,35.4 406.6,25.3" class="c2"/>
<polyline points="328.4,217.2 330.5,207.1 333.1,197.0 336.2,186.9 339.0,176.8 342.6,166.8 346.3,156.6 350.0,146.5 352.9,136.4 356.8,126.3 360.7,116.2 364.4,106.1 365.2,96.0 368.6,85.9 371.1,75.8 373.8,65.7 375.5,55.6 380.4,45.5 383.5,35.4 387.6,25.3" class="c3"/>
<polyline points="329.6,217.2 335.3,207.1 342.6,197.0 349.8,186.9 357.5,176.8 367.1,166.8 374.1,156.6 381.2,146.5 385.5,136.4 393.9,126.3 401.4,116.2 409.8,106.1 419.1,96.0 430.7,85.9 441.6,75.8 450.2,65.7 456.9,55.6 465.2,45.5 469.6,35.4 477.8,25.3" class="c4"/>
<polyline points="329.0,217.2 335.2,207.1 342.3,197.0 349.9,186.9 357.2,176.8 363.0,166.8 371.8,156.6 379.0,146.5 388.9,136.4 402.4,126.3 412.7,116.2 425.5,106.1 436.1,96.0 445.4,85.9 453.1,75.8 461.4,65.7 472.3,55.6 479.1,45.5 486.7,35.4 506.8,25.3" class="c5"/>
<polyline points="327.9,217.2 330.1,207.1 334.7,197.0 339.6,186.9 345.6,176.8 351.0,166.8 357.8,156.6 364.8,146.5 374.4,136.4 385.2,126.3 394.9,116.2 405.6,106.1 419.3,96.0 430.1,85.9 439.1,75.8 444.7,65.7 456.7,55.6 464.4,45.5 478.5,35.4 494.7,25.3" class="c6"/>
<polyline points="331.0,217.2 338.7,207.1 347.2,197.0 356.0,186.9 364.9,176.8 376.1,166.8 385.0,156.6 395.7,146.5 404.3,136.4 414.9,126.3 420.9,116.2 429.0,106.1 436.1,96.0 443.2,85.9 457.5,75.8 468.1,65.7 481.4,55.6 491.6,45.5 503.1,35.4 509.6,25.3" class="c7"/>
<polyline points="328.2,217.2 329.6,207.1 333.3,197.0 335.2,186.9 336.3,176.8 338.9,166.8 342.5,156.6 345.5,146.5 348.3,136.4 351.8,126.3 353.9,116.2 356.7,106.1 360.3,96.0 364.7,85.9 368.5,75.8 373.7,65.7 379.6,55.6 382.1,45.5 383.9,35.4 387.5,25.3" class="c8"/>
<polyline points="328.2,217.2 330.8,207.1 332.3,197.0 336.0,186.9 341.7,176.8 347.4,166.8 353.9,156.6 360.9,146.5 368.4,136.4 373.6,126.3 381.1,116.2 387.2,106.1 395.8,96.0 404.2,85.9 414.9,75.8 424.5,65.7 435.6,55.6 447.3,45.5 461.8,35.4 471.0,25.3" class="c9"/>
<polyline points="327.5,217.2 330.4,207.1 332.4,197.0 335.6,186.9 336.2,176.8 339.1,166.8 341.3,156.6 343.8,146.5 347.8,136.4 350.7,126.3 354.7,116.2 358.0,106.1 362.0,96.0 365.1,85.9 368.1,75.8 368.5,65.7 372.5,55.6 373.3,45.5 376.9,35.4 383.1,25.3" class="c0"/>
<polyline points="327.8,217.2 330.6,207.1 333.6,197.0 335.5,186.9 337.7,176.8 342.1,166.8 346.7,156.6 351.4,146.5 356.4,136.4 362.7,126.3 370.0,116.2 378.9,106.1 386.9,96.0 394.1,85.9 402.6,75.8 407.6,65.7 413.5,55.6 420.0,45.5 432.8,35.4 444.3,25.3" class="c1"/>
<polyline points="328.5,217.2 330.2,207.1 333.2,197.0 335.0,186.9 337.0,176.8 338.5,166.8 339.8,156.6 342.2,146.5 344.8,136.4 347.5,126.3 351.5,116.2 354.3,106.1 357.9,96.0 362.0,85.9 364.6,75.8 366.2,65.7 368.3,55.6 369.9,45.5 375.1,35.4 380.1,25.3" class="c2"/>
<polyline points="328.0,217.2 330.4,207.1 334.4,197.0 338.9,186.9 344.5,176.8 349.7,166.8 355.9,156.6 362.9,146.5 369.9,136.4 376.8,126.3 383.7,116.2 389.4,106.1 394.2,96.0 402.4,85.9 405.5,75.8 413.0,65.7 418.9,55.6 427.0,45.5 434.9,35.4 446.7,25.3" class="c3"/>
<polyline points="328.4,217.2 333.6,207.1 338.9,197.0 345.0,186.9 351.2,176.8 358.4,166.8 362.9,156.6 369.8,146.5 374.3,136.4 378.5,126.3 387.2,116.2 393.1,106.1 403.3,96.0 410.4,85.9 420.9,75.8 427.3,65.7 431.9,55.6 430.8,45.5 440.5,35.4 451.3,25.3" class="c4"/>
<polyline points="329.3,217.2 335.9,207.1 342.4,197.0 349.6,186.9 356.5,176.8 364.6,166.8 370.9,156.6 380.9,146.5 392.3,136.4 402.7,126.3 411.0,116.2 422.0,106.1 431.8,96.0 443.2,85.9 449.8,75.8 456.1,65.7 463.4,55.6 472.9,45.5 486.9,35.4 502.7,25.3" class="c5"/>
<polyline points="328.4,217.2 329.7,207.1 333.7,197.0 339.3,186.9 345.9,176.8 352.1,166.8 359.1,156.6 367.4,146.5 375.1,136.4 382.0,126.3 393.7,116.2 405.8,106.1 419.7,96.0 432.9,85.9 444.2,75.8 452.5,65.7 466.8,55.6 471.9,45.5 484.3,35.4 504.0,25.3" class="c6"/>
<polyline points="327.4,217.2 330.7,207.1 332.4,197.0 334.6,186.9 338.4,176.8 343.5,166.8 348.2,156.6 353.3,146.5 358.6,136.4 363.7,126.3 369.0,116.2 373.2,106.1 377.6,96.0 382.8,85.9 388.2,75.8 395.6,65.7 401.7,55.6 409.3,45.5 419.6,35.4 428.4,25.3" class="c7"/>
<polyline points="327.8,217.2 329.7,207.1 332.5,197.0 335.6,186.9 336.2,176.8 337.8,166.8 339.6,156.6 340.1,146.5 342.4,136.4 344.7,126.3 347.2,116.2 350.7,106.1 355.2,96.0 357.2,85.9 361.6,75.8 363.3,65.7 367.2,55.6 369.6,45.5 375.8,35.4 381.0,25.3" class="c8"/>
<polyline points="327.4,217.2 329.8,207.1 333.4,197.0 334.7,186.9 335.9,176.8 337.6,166.8 339.9,156.6 340.5,146.5 343.2,136.4 346.3,126.3 348.6,116.2 350.7,106.1 353.4,96.0 356.7,85.9 358.8,75.8 361.8,65.7 364.5,55.6 366.9,45.5 368.0,35.4 374.2,25.3" class="c9"/>
<polyline points="328.5,217.2 332.4,207.1 336.5,197.0 340.9,186.9 345.6,176.8 349.9,166.8 355.9,156.6 361.1,146.5 365.2,136.4 369.3,126.3 371.4,116.2 375.9,106.1 377.4,96.0 381.7,85.9 388.0,75.8 395.1,65.7 398.5,55.6 404.8,45.5 408.9,35.4 411.1,25.3" class="c0"/>
<polyline points="328.0,217.2 332.3,207.1 337.3,197.0 342.2,186.9 348.4,176.8 353.1,166.8 360.4,156.6 366.7,146.5 374.5,136.4 382.6,126.3 390.8,116.2 396.5,106.1 403.8,96.0 409.7,85.9 419.4,75.8 421.0,65.7 426.3,55.6 434.1,45.5 440.9,35.4 452.7,25.3" class="c1"/>
<polyline points="327.9,217.2 330.2,207.1 333.1,197.0 335.6,186.9 335.8,176.8 339.5,166.8 343.2,156.6 347.0,146.5 349.7,136.4 353.5,126.3 359.4,116.2 364.2,106.1 369.5,96.0 377.4,85.9 383.1,75.8 389.6,65.7 396.0,55.6 401.8,45.5 407.0,35.4 413.3,25.3" class="c2"/>
<polyline points="328.2,217.2 330.8,207.1 334.3,197.0 339.2,186.9 345.1,176.8 351.8,166.8 358.8,156.6 365.5,146.5 374.1,136.4 382.7,126.3 389.3,116.2 395.9,106.1 404.6,96.0 410.8,85.9 416.9,75.8 426.2,65.7 431.8,55.6 444.8,45.5 451.5,35.4 470.1,25.3" class="c3"/>
<polyline points="327.4,217.2 330.7,207.1 333.2,197.0 334.9,186.9 336.5,176.8 337.5,166.8 339.9,156.6 340.6,146.5 342.2,136.4 344.6,126.3 346.0,116.2 347.6,106.1 350.3,96.0 353.0,85.9 356.3,75.8 358.6,65.7 359.8,55.6 362.4,45.5 363.1,35.4 364.9,25.3" class="c4"/>
<polyline points="329.8,217.2 336.2,207.1 343.0,197.0 350.2,186.9 356.1,176.8 363.7,166.8 369.7,156.6 377.4,146.5 386.5,136.4 396.6,126.3 407.6,116.2 414.7,106.1 427.2,96.0 432.7,85.9 439.6,75.8 447.5,65.7 453.7,55.6 460.1,45.5 471.1,35.4 483.0,25.3" class="c5"/>
<polyline points="327.7,217.2 330.5,207.1 332.5,197.0 334.5,186.9 337.3,176.8 339.8,166.8 343.3,156.6 346.7,146.5 349.6,136.4 353.1,126.3 355.0,116.2 357.5,106.1 360.0,96.0 362.6,85.9 365.3,75.8 367.4,65.7 371.1,55.6 376.3,45.5 380.6,35.4 381.5,25.3" class="c6"/>
<polyline points="330.2,217.2 336.9,207.1 343.1,197.0 349.8,186.9 357.3,176.8 363.2,166.8 369.2,156.6 374.6,146.5 380.8,136.4 389.2,126.3 392.5,116.2 399.6,106.1 408.8,96.0 417.3,85.9 425.9,75.8 432.5,65.7 444.4,55.6 451.5,45.5 458.2,35.4 462.1,25.3" class="c7"/>
<polyline points="331.7,217.2 339.4,207.1 346.8,197.0 355.8,186.9 364.2,176.8 371.0,166.8 378.6,156.6 385.2,146.5 391.1,136.4 397.1,126.3 402.3,116.2 410.1,106.1 421.9,96.0 429.1,85.9 440.7,75.8 452.4,65.7 460.8,55.6 464.8,45.5 475.3,35.4 477.4,25.3" class="c8"/>
<polyline points="328.3,217.2 330.2,207.1 333.9,197.0 337.7,186.9 342.5,176.8 347.6,166.8 353.2,156.6 359.8,146.5 366.0,136.4 374.8,126.3 380.5,116.2 386.9,106.1 393.3,96.0 401.9,85.9 405.5,75.8 412.3,65.7 417.8,55.6 426.3,45.5 434.6,35.4 445.2,25.3" class="c9"/>
<polyline points="330.0,217.2 335.7,207.1 341.2,197.0 347.8,186.9 354.9,176.8 361.8,166.8 368.1,156.6 374.7,146.5 382.7,136.4 389.1,126.3 392.7,116.2 400.0,106.1 405.2,96.0 407.7,85.9 412.7,75.8 420.5,65.7 428.9,55.6 433.0,45.5 442.3,35.4 449.6,25.3" class="c0"/>
<polyline points="327.6,217.2 332.7,207.1 338.9,197.0 345.3,186.9 352.4,176.8 358.7,166.8 365.4,156.6 372.5,146.5 380.0,136.4 387.8,126.3 395.4,116.2 405.1,106.1 417.7,96.0 431.4,85.9 443.4,75.8 451.2,65.7 460.6,55.6 470.5,45.5 475.0,35.4 489.9,25.3" class="c1"/>
<polyline points="328.1,217.2 332.6,207.1 337.2,197.0 341.9,186.9 346.7,176.8 351.3,166.8 356.2,156.6 361.3,146.5 366.8,136.4 371.4,126.3 378.0,116.2 384.2,106.1 392.7,96.0 398.2,85.9 407.4,75.8 412.9,65.7 418.8,55.6 427.5,45.5 431.5,35.4 434.5,25.3" class="c2"/>
<polyline points="328.4,217.2 330.5,207.1 332.8,197.0 334.9,186.9 338.8,176.8 342.8,166.8 347.9,156.6 352.1,146.5 356.5,136.4 360.8,126.3 365.4,116.2 372.1,106.1 377.3,96.0 380.7,85.9 387.7,75.8 395.1,65.7 402.6,55.6 410.0,45.5 421.0,35.4 425.6,25.3" class="c3"/>
<polyline points="328.9,217.2 334.2,207.1 339.5,197.0 345.0,186.9 350.4,176.8 355.0,166.8 360.8,156.6 364.3,146.5 371.4,136.4 375.6,126.3 380.6,116.2 388.4,106.1 395.4,96.0 400.5,85.9 406.4,75.8 417.2,65.7 424.1,55.6 430.8,45.5 440.0,35.4 438.2,25.3" class="c4"/>
<polyline points="328.2,217.2 330.3,207.1 332.1,197.0 335.6,186.9 336.4,176.8 338.2,166.8 339.6,156.6 342.9,146.5 345.6,136.4 348.2,126.3 351.1,116.2 354.7,106.1 357.3,96.0 360.0,85.9 361.9,75.8 363.6,65.7 366.1,55.6 369.1,45.5 372.6,35.4 377.8,25.3" class="c5"/>
<polyline points="329.3,217.2 335.4,207.1 343.2,197.0 351.0,186.9 359.3,176.8 369.7,166.8 377.1,156.6 388.9,146.5 397.5,136.4 404.0,126.3 414.8,116.2 421.9,106.1 431.7,96.0 438.2,85.9 446.1,75.8 459.5,65.7 464.4,55.6 481.9,45.5 489.6,35.4 503.5,25.3" class="c6"/>
<polyline points="328.1,217.2 331.5,207.1 336.0,197.0 341.5,186.9 346.2,176.8 352.6,166.8 357.1,156.6 362.6,146.5 366.5,136.4 373.2,126.3 378.7,116.2 385.3,106.1 395.0,96.0 400.5,85.9 410.8,75.8 417.3,65.7 428.5,55.6 435.5,45.5 436.5,35.4 444.3,25.3" class="c7"/>
<polyline points="327.8,217.2 331.5,207.1 337.4,197.0 344.1,186.9 351.8,176.8 360.6,166.8 368.5,156.6 377.6,146.5 386.6,136.4 394.9,126.3 402.8,116.2 408.7,106.1 422.3,96.0 434.8,85.9 448.3,75.8 461.1,65.7 473.6,55.6 486.6,45.5 495.0,35.4 505.9,25.3" class="c8"/>
<polyline points="329.1,217.2 335.8,207.1 343.2,197.0 350.6,186.9 358.8,176.8 365.8,166.8 374.8,156.6 380.5,146.5 391.0,136.4 397.1,126.3 407.3,116.2 421.5,106.1 432.1,96.0 445.9,85.9 454.5,75.8 468.8,65.7 475.6,55.6 482.7,45.5 491.9,35.4 505.0,25.3" class="c9"/>
<polyline points="327.2,217.2 329.7,207.1 333.0,197.0 335.6,186.9 336.0,176.8 338.0,166.8 339.4,156.6 341.1,146.5 345.0,136.4 349.0,126.3 352.6,116.2 355.9,106.1 358.7,96.0 362.4,85.9 365.7,75.8 372.1,65.7 377.7,55.6 383.6,45.5 391.9,35.4 393.3,25.3" class="c0"/>
<polyline points="327.6,217.2 329.7,207.1 332.2,197.0 334.6,186.9 337.1,176.8 338.2,166.8 338.7,156.6 342.2,146.5 346.4,136.4 350.3,126.3 355.3,116.2 359.1,106.1 362.6,96.0 366.4,85.9 370.7,75.8 372.6,65.7 376.5,55.6 382.0,45.5 388.0,35.4 395.0,25.3" class="c1"/>
<polyline points="328.8,217.2 334.2,207.1 339.9,197.0 344.9,186.9 350.5,176.8 357.1,166.8 362.6,156.6 369.7,146.5 377.8,136.4 384.8,126.3 391.8,116.2 399.6,106.1 409.5,96.0 419.2,85.9 426.4,75.8 429.0,65.7 437.2,55.6 442.8,45.5 446.3,35.4 457.3,25.3" class="c2"/>
<polyline points="328.3,217.2 330.4,207.1 334.1,197.0 338.6,186.9 344.0,176.8 349.4,166.8 354.6,156.6 359.4,146.5 366.1,136.4 371.1,126.3 374.6,116.2 380.0,106.1 385.5,96.0 388.0,85.9 393.0,75.8 399.6,65.7 408.0,55.6 415.6,45.5 420.1,35.4 429.0,25.3" class="c3"/>
<polyline points="328.0,217.2 330.5,207.1 333.1,197.0 335.4,186.9 336.2,176.8 337.3,166.8 339.0,156.6 341.6,146.5 344.4,136.4 346.9,126.3 350.5,116.2 353.6,106.1 358.5,96.0 363.3,85.9 368.2,75.8 372.9,65.7 377.9,55.6 381.2,45.5 382.7,35.4 389.5,25.3" class="c4"/>
<polyline points="327.9,217.2 329.9,207.1 332.1,197.0 335.0,186.9 336.6,176.8 339.3,166.8 342.4,156.6 346.0,146.5 350.9,136.4 355.7,126.3 360.3,116.2 367.1,106.1 373.0,96.0 377.1,85.9 380.8,75.8 386.4,65.7 388.9,55.6 392.6,45.5 401.5,35.4 408.9,25.3" class="c5"/>
<polyline points="327.7,217.2 331.0,207.1 334.4,197.0 338.3,186.9 342.4,176.8 346.5,166.8 350.7,156.6 354.6,146.5 359.6,136.4 362.4,126.3 369.0,116.2 372.4,106.1 379.8,96.0 384.2,85.9 391.7,75.8 397.4,65.7 402.4,55.6 411.1,45.5 416.4,35.4 417.6,25.3" class="c6"/>
<polyline points="327.8,217.2 330.0,207.1 332.6,197.0 335.7,186.9 336.3,176.8 337.8,166.8 339.9,156.6 340.3,146.5 343.2,136.4 345.3,126.3 348.6,116.2 350.3,106.1 352.4,96.0 354.8,85.9 356.7,75.8 358.6,65.7 360.8,55.6 365.7,45.5 368.1,35.4 371.9,25.3" class="c7"/>
<polyline points="327.9,217.2 330.7,207.1 333.0,197.0 334.7,186.9 336.5,176.8 338.4,166.8 339.4,156.6 340.9,146.5 342.6,136.4 345.1,126.3 346.5,116.2 349.8,106.1 353.2,96.0 357.9,85.9 362.0,75.8 367.6,65.7 372.8,55.6 376.0,45.5 380.1,35.4 383.9,25.3" class="c8"/>
<polyline points="328.5,217.2 330.2,207.1 333.3,197.0 336.4,186.9 341.0,176.8 346.7,166.8 351.8,156.6 359.4,146.5 365.5,136.4 372.4,126.3 381.5,116.2 389.3,106.1 398.3,96.0 409.7,85.9 416.9,75.8 426.2,65.7 436.0,55.6 444.7,45.5 457.4,35.4 463.8,25.3" class="c9"/>
<polyline points="327.8,217.2 330.7,207.1 332.4,197.0 335.5,186.9 337.3,176.8 341.5,166.8 346.3,156.6 351.1,146.5 358.3,136.4 364.9,126.3 371.6,116.2 376.4,106.1 381.5,96.0 387.0,85.9 393.6,75.8 399.4,65.7 405.7,55.6 415.0,45.5 423.3,35.4 433.2,25.3" class="c0"/>
<polyline points="327.8,217.2 330.8,207.1 332.1,197.0 335.8,186.9 336.1,176.8 337.3,166.8 339.7,156.6 340.7,146.5 342.9,136.4 344.7,126.3 346.2,116.2 347.8,106.1 350.9,96.0 353.0,85.9 356.0,75.8 359.7,65.7 364.9,55.6 368.6,45.5 373.4,35.4 375.0,25.3" class="c1"/>
<polyline points="328.5,217.2 329.8,207.1 332.2,197.0 335.5,186.9 336.4,176.8 338.6,166.8 339.1,156.6 340.7,146.5 343.4,136.4 346.3,126.3 349.3,116.2 352.0,106.1 355.4,96.0 358.0,85.9 359.6,75.8 362.4,65.7 364.7,55.6 368.3,45.5 371.0,35.4 377.9,25.3" class="c2"/>
<polyline points="327.5,217.2 330.4,207.1 332.6,197.0 335.5,186.9 339.8,176.8 344.2,166.8 347.8,156.6 353.5,146.5 358.7,136.4 364.4,126.3 368.8,116.2 373.0,106.1 378.0,96.0 383.6,85.9 388.0,75.8 390.5,65.7 396.5,55.6 401.4,45.5 406.9,35.4 415.8,25.3" class="c3"/>
<polyline points="328.4,217.2 330.8,207.1 332.5,197.0 335.2,186.9 336.4,176.8 337.3,166.8 339.2,156.6 341.2,146.5 343.0,136.4 345.3,126.3 346.9,116.2 348.8,106.1 351.6,96.0 355.3,85.9 357.8,75.8 362.4,65.7 367.1,55.6 369.7,45.5 372.1,35.4 374.7,25.3" class="c4"/>
<polyline points="327.7,217.2 329.8,207.1 332.8,197.0 334.8,186.9 336.7,176.8 338.1,166.8 340.5,156.6 343.4,146.5 345.0,136.4 348.1,126.3 349.7,116.2 353.5,106.1 355.4,96.0 358.6,85.9 362.2,75.8 364.1,65.7 367.5,55.6 372.5,45.5 376.0,35.4 377.3,25.3" class="c5"/>
<polyline points="327.1,217.2 329.8,207.1 333.5,197.0 339.5,186.9 345.6,176.8 352.9,166.8 360.0,156.6 366.8,146.5 376.6,136.4 383.1,126.3 392.0,116.2 402.9,106.1 411.6,96.0 424.6,85.9 439.2,75.8 449.8,65.7 469.1,55.6 481.2,45.5 500.6,35.4 509.3,25.3" class="c6"/>
<polyline points="327.5,217.2 329.9,207.1 332.7,197.0 337.5,186.9 342.8,176.8 348.8,166.8 354.7,156.6 360.9,146.5 367.7,136.4 374.7,126.3 384.3,116.2 396.5,106.1 406.3,96.0 417.2,85.9 425.1,75.8 433.1,65.7 444.0,55.6 449.6,45.5 465.2,35.4 481.7,25.3" class="c7"/>
<polyline points="328.4,217.2 330.1,207.1 333.0,197.0 338.3,186.9 344.3,176.8 351.0,166.8 358.9,156.6 365.6,146.5 374.5,136.4 382.1,126.3 391.0,116.2 399.0,106.1 410.2,96.0 419.3,85.9 430.8,75.8 441.4,65.7 453.8,55.6 470.0,45.5 484.4,35.4 497.6,25.3" class="c8"/>
<polyline points="328.0,217.2 330.3,207.1 332.6,197.0 335.3,186.9 337.3,176.8 337.5,166.8 339.0,156.6 340.5,146.5 343.4,136.4 345.4,126.3 348.0,116.2 350.0,106.1 353.3,96.0 355.6,85.9 360.1,75.8 364.3,65.7 368.1,55.6 370.8,45.5 373.6,35.4 375.9,25.3" class="c9"/>
<polyline points="328.1,217.2 330.4,207.1 332.6,197.0 335.2,186.9 337.2,176.8 338.1,166.8 339.9,156.6 340.6,146.5 343.6,136.4 344.4,126.3 345.7,116.2 348.6,106.1 350.7,96.0 354.2,85.9 356.0,75.8 358.1,65.7 360.7,55.6 362.3,45.5 365.3,35.4 369.3,25.3" class="c0"/>
<polyline points="328.2,217.2 330.9,207.1 332.1,197.0 334.8,186.9 336.5,176.8 338.6,166.8 338.7,156.6 341.1,146.5 344.5,136.4 348.4,126.3 353.1,116.2 358.1,106.1 362.0,96.0 366.0,85.9 367.9,75.8 371.9,65.7 375.5,55.6 380.3,45.5 387.8,35.4 393.4,25.3" class="c1"/>
<polyline points="327.4,217.2 330.3,207.1 332.3,197.0 335.7,186.9 337.1,176.8 337.6,166.8 339.5,156.6 340.8,146.5 342.3,136.4 345.6,126.3 346.2,116.2 349.0,106.1 350.8,96.0 354.4,85.9 357.6,75.8 359.9,65.7 364.4,55.6 368.6,45.5 373.6,35.4 376.5,25.3" class="c2"/>
<polyline points="330.2,217.2 336.1,207.1 342.7,197.0 350.1,186.9 357.6,176.8 364.3,166.8 371.9,156.6 378.4,146.5 386.6,136.4 393.4,126.3 402.2,116.2 408.5,106.1 415.0,96.0 419.7,85.9 426.1,75.8 428.7,65.7 435.8,55.6 441.4,45.5 448.1,35.4 462.0,25.3" class="c3"/>
<polyline points="328.3,217.2 330.7,207.1 332.7,197.0 335.6,186.9 337.7,176.8 342.1,166.8 346.5,156.6 351.9,146.5 357.8,136.4 365.1,126.3 372.2,116.2 379.9,106.1 386.6,96.0 396.6,85.9 402.0,75.8 413.4,65.7 420.5,55.6 429.5,45.5 434.7,35.4 441.3,25.3" class="c4"/>
<polyline points="328.3,217.2 329.9,207.1 333.3,197.0 335.1,186.9 336.6,176.8 338.2,166.8 341.6,156.6 344.1,146.5 346.7,136.4 348.9,126.3 350.7,116.2 352.6,106.1 354.7,96.0 356.6,85.9 360.0,75.8 362.1,65.7 364.7,55.6 367.9,45.5 371.6,35.4 373.6,25.3" class="c5"/>
<polyline points="327.0,217.2 330.2,207.1 333.4,197.0 336.1,186.9 339.8,176.8 344.3,166.8 348.6,156.6 354.6,146.5 360.2,136.4 366.8,126.3 373.0,116.2 380.3,106.1 385.9,96.0 394.6,85.9 399.3,75.8 404.1,65.7 409.7,55.6 412.6,45.5 419.8,35.4 433.0,25.3" class="c6"/>
<polyline points="327.5,217.2 330.0,207.1 332.2,197.0 334.9,186.9 336.9,176.8 338.1,166.8 339.6,156.6 343.2,146.5 346.4,136.4 350.8,126.3 355.9,116.2 361.0,106.1 365.9,96.0 370.7,85.9 376.6,75.8 381.6,65.7 385.1,55.6 390.6,45.5 395.1,35.4 399.4,25.3" class="c7"/>
<polyline points="328.2,217.2 330.6,207.1 332.6,197.0 335.8,186.9 337.0,176.8 338.0,166.8 339.2,156.6 340.3,146.5 342.4,136.4 346.3,126.3 348.7,116.2 351.8,106.1 355.0,96.0 358.8,85.9 362.0,75.8 365.9,65.7 370.3,55.6 375.7,45.5 380.4,35.4 387.2,25.3" class="c8"/>
<polyline points="327.9,217.2 331.7,207.1 336.3,197.0 340.5,186.9 345.7,176.8 350.9,166.8 356.4,156.6 362.5,146.5 367.1,136.4 373.3,126.3 376.1,116.2 381.7,106.1 386.6,96.0 388.5,85.9 393.6,75.8 401.3,65.7 406.5,55.6 415.8,45.5 420.6,35.4 426.4,25.3" class="c9"/>
<polyline points="329.2,217.2 335.4,207.1 341.7,197.0 349.0,186.9 356.1,176.8 365.2,166.8 373.5,156.6 384.6,146.5 393.4,136.4 401.2,126.3 411.0,116.2 418.6,106.1 426.7,96.0 431.8,85.9 445.0,75.8 456.9,65.7 468.7,55.6 477.4,45.5 494.2,35.4 497.0,25.3" class="c3"/>
<polyline points="331.0,217.2 338.8,207.1 346.9,197.0 356.0,186.9 363.8,176.8 370.9,166.8 379.3,156.6 390.7,146.5 400.7,136.4 411.5,126.3 420.7,116.2 431.6,106.1 442.6,96.0 445.7,85.9 455.2,75.8 461.7,65.7 477.7,55.6 484.5,45.5 503.8,35.4 509.7,25.3" class="c4"/>
<polyline points="329.5,217.2 335.9,207.1 343.0,197.0 349.7,186.9 358.6,176.8 366.4,166.8 375.1,156.6 384.4,146.5 394.3,136.4 404.0,126.3 412.6,116.2 422.0,106.1 428.5,96.0 436.3,85.9 446.8,75.8 451.9,65.7 460.6,55.6 473.5,45.5 485.4,35.4 496.6,25.3" class="c6"/>
<polyline points="329.2,217.2 335.3,207.1 342.0,197.0 349.1,186.9 357.7,176.8 365.7,166.8 375.3,156.6 384.1,146.5 392.7,136.4 398.5,126.3 406.6,116.2 416.6,106.1 426.1,96.0 437.9,85.9 445.7,75.8 458.0,65.7 468.4,55.6 481.4,45.5 489.4,35.4 497.2,25.3" class="c1"/>
<polyline points="330.2,217.2 337.4,207.1 345.3,197.0 353.9,186.9 362.0,176.8 369.3,166.8 377.7,156.6 385.7,146.5 394.0,136.4 403.5,126.3 412.9,116.2 423.9,106.1 435.4,96.0 446.4,85.9 460.1,75.8 464.9,65.7 472.7,55.6 484.6,45.5 490.1,35.4 504.6,25.3" class="c2"/>
<polyline points="334.4,217.2 345.0,207.1 355.4,197.0 365.8,186.9 376.0,176.8 386.3,166.8 396.4,156.6 406.6,146.5 416.7,136.4 426.7,126.3 436.8,116.2 446.8,106.1 456.7,96.0 466.6,85.9 476.4,75.8 486.2,65.7 496.0,55.6 505.8,45.5 515.6,35.4 525.4,25.3" class="c0"/>
<polyline points="332.1,217.2 339.8,207.1 347.5,197.0 355.3,186.9 363.0,176.8 370.7,166.8 378.5,156.6 386.2,146.5 393.9,136.4 401.6,126.3 409.4,116.2 417.1,106.1 445.0,96.0 465.0,85.9 480.0,75.8 486.5,65.7 489.5,55.6 491.0,45.5 493.0,35.4 496.0,25.3" class="c6"/>
<polyline points="327.0,217.2 331.7,207.1 337.5,197.0 344.0,186.9 351.4,176.8 359.5,166.8 368.1,156.6 378.6,146.5 389.0,136.4 399.4,126.3 411.2,116.2 424.4,106.1 437.4,96.0 449.6,85.9 462.4,75.8 474.8,65.7 489.4,55.6 502.5,45.5 515.6,35.4 530.6,25.3" class="c1"/>
<polyline points="326.5,217.2 329.0,207.1 331.6,197.0 333.9,186.9 335.3,176.8 336.7,166.8 338.0,156.6 339.3,146.5 341.6,136.4 343.9,126.3 344.5,116.2 345.1,106.1 348.7,96.0 352.2,85.9 354.6,75.8 356.9,65.7 359.2,55.6 361.0,45.5 362.3,35.4 363.3,25.3" class="bk"/>
<polyline points="331.0,217.2 337.6,207.1 344.2,197.0 350.9,186.9 357.5,176.8 364.1,166.8 370.8,156.6 377.4,146.5 384.0,136.4 390.6,126.3 397.3,116.2 403.9,106.1 410.5,96.0 417.2,85.9 423.8,75.8 430.4,65.7 437.1,55.6 443.7,45.5 450.3,35.4 456.9,25.3" class="bk"/>
<polyline points="335.6,217.2 346.5,207.1 357.3,197.0 367.9,186.9 378.5,176.8 389.0,166.8 399.5,156.6 410.0,146.5 420.4,136.4 430.8,126.3 441.1,116.2 451.5,106.1 461.8,96.0 472.1,85.9 482.4,75.8 492.6,65.7 502.9,55.6 513.1,45.5 523.3,35.4 533.5,25.3" class="bk"/>
<line x1="362.52" y1="227.35" x2="362.52" y2="25.35" stroke="#38a838" stroke-width="1.3" stroke-dasharray="3.0,1.5"/>
<line x1="400.68" y1="227.35" x2="400.68" y2="25.35" stroke="#cccc2a" stroke-width="1.3" stroke-dasharray="3.0,1.5"/>
<line x1="438.85" y1="227.35" x2="438.85" y2="25.35" stroke="#ffa42a" stroke-width="1.3" stroke-dasharray="3.0,1.5"/>
<line x1="477.02" y1="227.35" x2="477.02" y2="25.35" stroke="#ff3c3c" stroke-width="1.3" stroke-dasharray="3.0,1.5"/>
<rect x="316.60" y="15.80" width="227.40" height="221.90" class="fr"/>
<line x1="324.35" y1="237.70" x2="324.35" y2="240.00" class="tk"/>
<text transform="translate(325.55,242.60) rotate(-90)" text-anchor="end" class="tl">0.0000</text>
<line x1="352.98" y1="237.70" x2="352.98" y2="240.00" class="tk"/>
<text transform="translate(354.18,242.60) rotate(-90)" text-anchor="end" class="tl">0.0025</text>
<line x1="381.60" y1="237.70" x2="381.60" y2="240.00" class="tk"/>
<text transform="translate(382.80,242.60) rotate(-90)" text-anchor="end" class="tl">0.0050</text>
<line x1="410.23" y1="237.70" x2="410.23" y2="240.00" class="tk"/>
<text transform="translate(411.43,242.60) rotate(-90)" text-anchor="end" class="tl">0.0075</text>
<line x1="438.85" y1="237.70" x2="438.85" y2="240.00" class="tk"/>
<text transform="translate(440.05,242.60) rotate(-90)" text-anchor="end" class="tl">0.0100</text>
<line x1="467.48" y1="237.70" x2="467.48" y2="240.00" class="tk"/>
<text transform="translate(468.68,242.60) rotate(-90)" text-anchor="end" class="tl">0.0125</text>
<line x1="496.10" y1="237.70" x2="496.10" y2="240.00" class="tk"/>
<text transform="translate(497.30,242.60) rotate(-90)" text-anchor="end" class="tl">0.0150</text>
<line x1="524.73" y1="237.70" x2="524.73" y2="240.00" class="tk"/>
<text transform="translate(525.93,242.60) rotate(-90)" text-anchor="end" class="tl">0.0175</text>
<line x1="314.30" y1="227.35" x2="316.60" y2="227.35" class="tk"/>
<text x="312.30" y="230.25" text-anchor="end" class="tl">0</text>
<line x1="314.30" y1="186.95" x2="316.60" y2="186.95" class="tk"/>
<text x="312.30" y="189.85" text-anchor="end" class="tl">100</text>
<line x1="314.30" y1="146.55" x2="316.60" y2="146.55" class="tk"/>
<text x="312.30" y="149.45" text-anchor="end" class="tl">200</text>
<line x1="314.30" y1="106.15" x2="316.60" y2="106.15" class="tk"/>
<text x="312.30" y="109.05" text-anchor="end" class="tl">300</text>
<line x1="314.30" y1="65.75" x2="316.60" y2="65.75" class="tk"/>
<text x="312.30" y="68.65" text-anchor="end" class="tl">400</text>
<line x1="314.30" y1="25.35" x2="316.60" y2="25.35" class="tk"/>
<text x="312.30" y="28.25" text-anchor="end" class="tl">500</text>
<text transform="translate(297.90,127.35) rotate(-90)" text-anchor="middle" class="al" style="font-size:6.2px" textLength="58.5" lengthAdjust="spacingAndGlyphs">Sa(T1,5%)(cm/s²)</text>
<text x="430.30" y="12.0" text-anchor="middle" class="ti" textLength="114.4" lengthAdjust="spacingAndGlyphs">IDA CURVE - STORY DRIFT</text>
<text x="429.80" y="269.30" text-anchor="middle" class="al" textLength="62.2" lengthAdjust="spacingAndGlyphs">Story Drift (cm/cm)</text>
<text x="418.00" y="292.9" text-anchor="middle" class="cp" textLength="19.0" lengthAdjust="spacingAndGlyphs">(<tspan font-weight="bold">b</tspan>)</text>
</svg>
</body></html>
